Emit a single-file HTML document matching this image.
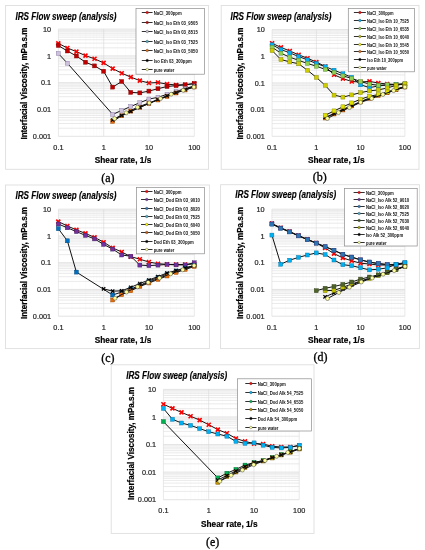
<!DOCTYPE html>
<html><head><meta charset="utf-8"><style>
html,body{margin:0;padding:0;background:#fff;width:425px;height:550px;overflow:hidden}
svg{display:block;filter:blur(0.3px)}
</style></head><body>
<svg width="425" height="550" viewBox="0 0 425 550">
<rect width="425" height="550" fill="#fff"/>
<rect x="5.6" y="5.5" width="202.9" height="163.8" fill="#fff" stroke="#dedede" stroke-width="0.9"/>
<line x1="72.04" y1="29.1" x2="72.04" y2="136.3" stroke="#f8f8f8" stroke-width="0.5"/>
<line x1="80.01" y1="29.1" x2="80.01" y2="136.3" stroke="#f8f8f8" stroke-width="0.5"/>
<line x1="85.67" y1="29.1" x2="85.67" y2="136.3" stroke="#f8f8f8" stroke-width="0.5"/>
<line x1="90.06" y1="29.1" x2="90.06" y2="136.3" stroke="#f8f8f8" stroke-width="0.5"/>
<line x1="93.65" y1="29.1" x2="93.65" y2="136.3" stroke="#f8f8f8" stroke-width="0.5"/>
<line x1="96.68" y1="29.1" x2="96.68" y2="136.3" stroke="#f8f8f8" stroke-width="0.5"/>
<line x1="99.31" y1="29.1" x2="99.31" y2="136.3" stroke="#f8f8f8" stroke-width="0.5"/>
<line x1="101.63" y1="29.1" x2="101.63" y2="136.3" stroke="#f8f8f8" stroke-width="0.5"/>
<line x1="117.34" y1="29.1" x2="117.34" y2="136.3" stroke="#f8f8f8" stroke-width="0.5"/>
<line x1="125.31" y1="29.1" x2="125.31" y2="136.3" stroke="#f8f8f8" stroke-width="0.5"/>
<line x1="130.97" y1="29.1" x2="130.97" y2="136.3" stroke="#f8f8f8" stroke-width="0.5"/>
<line x1="135.36" y1="29.1" x2="135.36" y2="136.3" stroke="#f8f8f8" stroke-width="0.5"/>
<line x1="138.95" y1="29.1" x2="138.95" y2="136.3" stroke="#f8f8f8" stroke-width="0.5"/>
<line x1="141.98" y1="29.1" x2="141.98" y2="136.3" stroke="#f8f8f8" stroke-width="0.5"/>
<line x1="144.61" y1="29.1" x2="144.61" y2="136.3" stroke="#f8f8f8" stroke-width="0.5"/>
<line x1="146.93" y1="29.1" x2="146.93" y2="136.3" stroke="#f8f8f8" stroke-width="0.5"/>
<line x1="162.64" y1="29.1" x2="162.64" y2="136.3" stroke="#f8f8f8" stroke-width="0.5"/>
<line x1="170.61" y1="29.1" x2="170.61" y2="136.3" stroke="#f8f8f8" stroke-width="0.5"/>
<line x1="176.27" y1="29.1" x2="176.27" y2="136.3" stroke="#f8f8f8" stroke-width="0.5"/>
<line x1="180.66" y1="29.1" x2="180.66" y2="136.3" stroke="#f8f8f8" stroke-width="0.5"/>
<line x1="184.25" y1="29.1" x2="184.25" y2="136.3" stroke="#f8f8f8" stroke-width="0.5"/>
<line x1="187.28" y1="29.1" x2="187.28" y2="136.3" stroke="#f8f8f8" stroke-width="0.5"/>
<line x1="189.91" y1="29.1" x2="189.91" y2="136.3" stroke="#f8f8f8" stroke-width="0.5"/>
<line x1="192.23" y1="29.1" x2="192.23" y2="136.3" stroke="#f8f8f8" stroke-width="0.5"/>
<line x1="58.4" y1="128.23" x2="194.3" y2="128.23" stroke="#dcdcdc" stroke-width="0.6"/>
<line x1="58.4" y1="123.51" x2="194.3" y2="123.51" stroke="#dcdcdc" stroke-width="0.6"/>
<line x1="58.4" y1="120.16" x2="194.3" y2="120.16" stroke="#dcdcdc" stroke-width="0.6"/>
<line x1="58.4" y1="117.57" x2="194.3" y2="117.57" stroke="#dcdcdc" stroke-width="0.6"/>
<line x1="58.4" y1="115.45" x2="194.3" y2="115.45" stroke="#dcdcdc" stroke-width="0.6"/>
<line x1="58.4" y1="113.65" x2="194.3" y2="113.65" stroke="#dcdcdc" stroke-width="0.6"/>
<line x1="58.4" y1="112.10" x2="194.3" y2="112.10" stroke="#dcdcdc" stroke-width="0.6"/>
<line x1="58.4" y1="110.73" x2="194.3" y2="110.73" stroke="#dcdcdc" stroke-width="0.6"/>
<line x1="58.4" y1="101.43" x2="194.3" y2="101.43" stroke="#dcdcdc" stroke-width="0.6"/>
<line x1="58.4" y1="96.71" x2="194.3" y2="96.71" stroke="#dcdcdc" stroke-width="0.6"/>
<line x1="58.4" y1="93.36" x2="194.3" y2="93.36" stroke="#dcdcdc" stroke-width="0.6"/>
<line x1="58.4" y1="90.77" x2="194.3" y2="90.77" stroke="#dcdcdc" stroke-width="0.6"/>
<line x1="58.4" y1="88.65" x2="194.3" y2="88.65" stroke="#dcdcdc" stroke-width="0.6"/>
<line x1="58.4" y1="86.85" x2="194.3" y2="86.85" stroke="#dcdcdc" stroke-width="0.6"/>
<line x1="58.4" y1="85.30" x2="194.3" y2="85.30" stroke="#dcdcdc" stroke-width="0.6"/>
<line x1="58.4" y1="83.93" x2="194.3" y2="83.93" stroke="#dcdcdc" stroke-width="0.6"/>
<line x1="58.4" y1="74.63" x2="194.3" y2="74.63" stroke="#dcdcdc" stroke-width="0.6"/>
<line x1="58.4" y1="69.91" x2="194.3" y2="69.91" stroke="#dcdcdc" stroke-width="0.6"/>
<line x1="58.4" y1="66.56" x2="194.3" y2="66.56" stroke="#dcdcdc" stroke-width="0.6"/>
<line x1="58.4" y1="63.97" x2="194.3" y2="63.97" stroke="#dcdcdc" stroke-width="0.6"/>
<line x1="58.4" y1="61.85" x2="194.3" y2="61.85" stroke="#dcdcdc" stroke-width="0.6"/>
<line x1="58.4" y1="60.05" x2="194.3" y2="60.05" stroke="#dcdcdc" stroke-width="0.6"/>
<line x1="58.4" y1="58.50" x2="194.3" y2="58.50" stroke="#dcdcdc" stroke-width="0.6"/>
<line x1="58.4" y1="57.13" x2="194.3" y2="57.13" stroke="#dcdcdc" stroke-width="0.6"/>
<line x1="58.4" y1="47.83" x2="194.3" y2="47.83" stroke="#dcdcdc" stroke-width="0.6"/>
<line x1="58.4" y1="43.11" x2="194.3" y2="43.11" stroke="#dcdcdc" stroke-width="0.6"/>
<line x1="58.4" y1="39.76" x2="194.3" y2="39.76" stroke="#dcdcdc" stroke-width="0.6"/>
<line x1="58.4" y1="37.17" x2="194.3" y2="37.17" stroke="#dcdcdc" stroke-width="0.6"/>
<line x1="58.4" y1="35.05" x2="194.3" y2="35.05" stroke="#dcdcdc" stroke-width="0.6"/>
<line x1="58.4" y1="33.25" x2="194.3" y2="33.25" stroke="#dcdcdc" stroke-width="0.6"/>
<line x1="58.4" y1="31.70" x2="194.3" y2="31.70" stroke="#dcdcdc" stroke-width="0.6"/>
<line x1="58.4" y1="30.33" x2="194.3" y2="30.33" stroke="#dcdcdc" stroke-width="0.6"/>
<line x1="58.4" y1="136.30" x2="194.3" y2="136.30" stroke="#d0d0d0" stroke-width="0.6"/>
<line x1="58.4" y1="109.50" x2="194.3" y2="109.50" stroke="#d0d0d0" stroke-width="0.6"/>
<line x1="58.4" y1="82.70" x2="194.3" y2="82.70" stroke="#d0d0d0" stroke-width="0.6"/>
<line x1="58.4" y1="55.90" x2="194.3" y2="55.90" stroke="#d0d0d0" stroke-width="0.6"/>
<line x1="58.4" y1="29.10" x2="194.3" y2="29.10" stroke="#d0d0d0" stroke-width="0.6"/>
<line x1="58.40" y1="29.1" x2="58.40" y2="136.3" stroke="#d9d9d9" stroke-width="0.6"/>
<line x1="103.70" y1="29.1" x2="103.70" y2="136.3" stroke="#d9d9d9" stroke-width="0.6"/>
<line x1="149.00" y1="29.1" x2="149.00" y2="136.3" stroke="#d9d9d9" stroke-width="0.6"/>
<line x1="194.30" y1="29.1" x2="194.30" y2="136.3" stroke="#d9d9d9" stroke-width="0.6"/>
<polyline points="58.30,43.40 67.36,48.00 76.42,51.60 85.48,55.60 94.54,58.80 103.60,62.90 112.66,68.60 121.72,73.20 130.78,77.10 139.84,80.60 148.90,83.00 157.96,82.50 167.02,84.10 176.08,85.00 185.14,84.80 194.20,83.60" fill="none" stroke="#111" stroke-width="1.0" stroke-linejoin="round"/>
<path d="M56.30,41.40L60.30,45.40M60.30,41.40L56.30,45.40" stroke="#ff0000" stroke-width="1.6" fill="none"/>
<path d="M65.36,46.00L69.36,50.00M69.36,46.00L65.36,50.00" stroke="#ff0000" stroke-width="1.6" fill="none"/>
<path d="M74.42,49.60L78.42,53.60M78.42,49.60L74.42,53.60" stroke="#ff0000" stroke-width="1.6" fill="none"/>
<path d="M83.48,53.60L87.48,57.60M87.48,53.60L83.48,57.60" stroke="#ff0000" stroke-width="1.6" fill="none"/>
<path d="M92.54,56.80L96.54,60.80M96.54,56.80L92.54,60.80" stroke="#ff0000" stroke-width="1.6" fill="none"/>
<path d="M101.60,60.90L105.60,64.90M105.60,60.90L101.60,64.90" stroke="#ff0000" stroke-width="1.6" fill="none"/>
<path d="M110.66,66.60L114.66,70.60M114.66,66.60L110.66,70.60" stroke="#ff0000" stroke-width="1.6" fill="none"/>
<path d="M119.72,71.20L123.72,75.20M123.72,71.20L119.72,75.20" stroke="#ff0000" stroke-width="1.6" fill="none"/>
<path d="M128.78,75.10L132.78,79.10M132.78,75.10L128.78,79.10" stroke="#ff0000" stroke-width="1.6" fill="none"/>
<path d="M137.84,78.60L141.84,82.60M141.84,78.60L137.84,82.60" stroke="#ff0000" stroke-width="1.6" fill="none"/>
<path d="M146.90,81.00L150.90,85.00M150.90,81.00L146.90,85.00" stroke="#ff0000" stroke-width="1.6" fill="none"/>
<path d="M155.96,80.50L159.96,84.50M159.96,80.50L155.96,84.50" stroke="#ff0000" stroke-width="1.6" fill="none"/>
<path d="M165.02,82.10L169.02,86.10M169.02,82.10L165.02,86.10" stroke="#ff0000" stroke-width="1.6" fill="none"/>
<path d="M174.08,83.00L178.08,87.00M178.08,83.00L174.08,87.00" stroke="#ff0000" stroke-width="1.6" fill="none"/>
<path d="M183.14,82.80L187.14,86.80M187.14,82.80L183.14,86.80" stroke="#ff0000" stroke-width="1.6" fill="none"/>
<path d="M192.20,81.60L196.20,85.60M196.20,81.60L192.20,85.60" stroke="#ff0000" stroke-width="1.6" fill="none"/>
<polyline points="58.30,45.50 67.36,51.00 76.42,56.00 85.48,62.20 94.54,65.90 103.60,71.20 112.66,87.10 121.72,81.50 130.78,92.40 139.84,92.90 148.90,91.10 157.96,88.70 167.02,86.50 176.08,85.60 185.14,84.80 194.20,83.50" fill="none" stroke="#111" stroke-width="1.0" stroke-linejoin="round"/>
<rect x="56.30" y="43.50" width="4.0" height="4.0" fill="#c00000" stroke="#800000" stroke-width="0.4"/>
<rect x="65.36" y="49.00" width="4.0" height="4.0" fill="#c00000" stroke="#800000" stroke-width="0.4"/>
<rect x="74.42" y="54.00" width="4.0" height="4.0" fill="#c00000" stroke="#800000" stroke-width="0.4"/>
<rect x="83.48" y="60.20" width="4.0" height="4.0" fill="#c00000" stroke="#800000" stroke-width="0.4"/>
<rect x="92.54" y="63.90" width="4.0" height="4.0" fill="#c00000" stroke="#800000" stroke-width="0.4"/>
<rect x="101.60" y="69.20" width="4.0" height="4.0" fill="#c00000" stroke="#800000" stroke-width="0.4"/>
<rect x="110.66" y="85.10" width="4.0" height="4.0" fill="#c00000" stroke="#800000" stroke-width="0.4"/>
<rect x="119.72" y="79.50" width="4.0" height="4.0" fill="#c00000" stroke="#800000" stroke-width="0.4"/>
<rect x="128.78" y="90.40" width="4.0" height="4.0" fill="#c00000" stroke="#800000" stroke-width="0.4"/>
<rect x="137.84" y="90.90" width="4.0" height="4.0" fill="#c00000" stroke="#800000" stroke-width="0.4"/>
<rect x="146.90" y="89.10" width="4.0" height="4.0" fill="#c00000" stroke="#800000" stroke-width="0.4"/>
<rect x="155.96" y="86.70" width="4.0" height="4.0" fill="#c00000" stroke="#800000" stroke-width="0.4"/>
<rect x="165.02" y="84.50" width="4.0" height="4.0" fill="#c00000" stroke="#800000" stroke-width="0.4"/>
<rect x="174.08" y="83.60" width="4.0" height="4.0" fill="#c00000" stroke="#800000" stroke-width="0.4"/>
<rect x="183.14" y="82.80" width="4.0" height="4.0" fill="#c00000" stroke="#800000" stroke-width="0.4"/>
<rect x="192.20" y="81.50" width="4.0" height="4.0" fill="#c00000" stroke="#800000" stroke-width="0.4"/>
<polyline points="58.30,53.50 67.36,63.20 112.66,114.40 121.72,110.40 130.78,106.50 139.84,102.70 148.90,99.10 157.96,97.30 167.02,94.30 176.08,91.40 185.14,88.60 194.20,86.00" fill="none" stroke="#111" stroke-width="1.0" stroke-linejoin="round"/>
<rect x="56.30" y="51.50" width="4.0" height="4.0" fill="#ccc0da" stroke="#7f6f9f" stroke-width="0.4"/>
<rect x="65.36" y="61.20" width="4.0" height="4.0" fill="#ccc0da" stroke="#7f6f9f" stroke-width="0.4"/>
<rect x="110.66" y="112.40" width="4.0" height="4.0" fill="#ccc0da" stroke="#7f6f9f" stroke-width="0.4"/>
<rect x="119.72" y="108.40" width="4.0" height="4.0" fill="#ccc0da" stroke="#7f6f9f" stroke-width="0.4"/>
<rect x="128.78" y="104.50" width="4.0" height="4.0" fill="#ccc0da" stroke="#7f6f9f" stroke-width="0.4"/>
<rect x="137.84" y="100.70" width="4.0" height="4.0" fill="#ccc0da" stroke="#7f6f9f" stroke-width="0.4"/>
<rect x="146.90" y="97.10" width="4.0" height="4.0" fill="#ccc0da" stroke="#7f6f9f" stroke-width="0.4"/>
<rect x="155.96" y="95.30" width="4.0" height="4.0" fill="#ccc0da" stroke="#7f6f9f" stroke-width="0.4"/>
<rect x="165.02" y="92.30" width="4.0" height="4.0" fill="#ccc0da" stroke="#7f6f9f" stroke-width="0.4"/>
<rect x="174.08" y="89.40" width="4.0" height="4.0" fill="#ccc0da" stroke="#7f6f9f" stroke-width="0.4"/>
<rect x="183.14" y="86.60" width="4.0" height="4.0" fill="#ccc0da" stroke="#7f6f9f" stroke-width="0.4"/>
<rect x="192.20" y="84.00" width="4.0" height="4.0" fill="#ccc0da" stroke="#7f6f9f" stroke-width="0.4"/>
<polyline points="112.66,121.40 121.72,115.80 130.78,111.10 139.84,107.30 148.90,103.50 157.96,100.00 167.02,96.50 176.08,93.00 185.14,90.00 194.20,87.00" fill="none" stroke="#111" stroke-width="1.0" stroke-linejoin="round"/>
<rect x="110.66" y="119.40" width="4.0" height="4.0" fill="#e46c0a" stroke="#984807" stroke-width="0.4"/>
<rect x="119.72" y="113.80" width="4.0" height="4.0" fill="#e46c0a" stroke="#984807" stroke-width="0.4"/>
<rect x="128.78" y="109.10" width="4.0" height="4.0" fill="#e46c0a" stroke="#984807" stroke-width="0.4"/>
<rect x="137.84" y="105.30" width="4.0" height="4.0" fill="#e46c0a" stroke="#984807" stroke-width="0.4"/>
<rect x="146.90" y="101.50" width="4.0" height="4.0" fill="#e46c0a" stroke="#984807" stroke-width="0.4"/>
<rect x="155.96" y="98.00" width="4.0" height="4.0" fill="#e46c0a" stroke="#984807" stroke-width="0.4"/>
<rect x="165.02" y="94.50" width="4.0" height="4.0" fill="#e46c0a" stroke="#984807" stroke-width="0.4"/>
<rect x="174.08" y="91.00" width="4.0" height="4.0" fill="#e46c0a" stroke="#984807" stroke-width="0.4"/>
<rect x="183.14" y="88.00" width="4.0" height="4.0" fill="#e46c0a" stroke="#984807" stroke-width="0.4"/>
<rect x="192.20" y="85.00" width="4.0" height="4.0" fill="#e46c0a" stroke="#984807" stroke-width="0.4"/>
<polyline points="112.66,120.00 121.72,115.50 130.78,111.50 139.84,107.50 148.90,103.50 157.96,99.50 167.02,95.80 176.08,92.60 185.14,89.50 194.20,86.00" fill="none" stroke="#111" stroke-width="1.0" stroke-linejoin="round"/>
<path d="M110.96,118.30L114.36,121.70M114.36,118.30L110.96,121.70" stroke="#000000" stroke-width="1.2" fill="none"/>
<path d="M120.02,113.80L123.42,117.20M123.42,113.80L120.02,117.20" stroke="#000000" stroke-width="1.2" fill="none"/>
<path d="M129.08,109.80L132.48,113.20M132.48,109.80L129.08,113.20" stroke="#000000" stroke-width="1.2" fill="none"/>
<path d="M138.14,105.80L141.54,109.20M141.54,105.80L138.14,109.20" stroke="#000000" stroke-width="1.2" fill="none"/>
<path d="M147.20,101.80L150.60,105.20M150.60,101.80L147.20,105.20" stroke="#000000" stroke-width="1.2" fill="none"/>
<path d="M156.26,97.80L159.66,101.20M159.66,97.80L156.26,101.20" stroke="#000000" stroke-width="1.2" fill="none"/>
<path d="M165.32,94.10L168.72,97.50M168.72,94.10L165.32,97.50" stroke="#000000" stroke-width="1.2" fill="none"/>
<path d="M174.38,90.90L177.78,94.30M177.78,90.90L174.38,94.30" stroke="#000000" stroke-width="1.2" fill="none"/>
<path d="M183.44,87.80L186.84,91.20M186.84,87.80L183.44,91.20" stroke="#000000" stroke-width="1.2" fill="none"/>
<path d="M192.50,84.30L195.90,87.70M195.90,84.30L192.50,87.70" stroke="#000000" stroke-width="1.2" fill="none"/>
<polyline points="114.60,118.60 126.20,112.80 137.50,107.20 149.20,102.90 160.50,98.60 171.20,94.20 183.20,90.30 193.90,87.10" fill="none" stroke="#111" stroke-width="1.0" stroke-linejoin="round"/>
<circle cx="114.60" cy="118.60" r="2.00" fill="#ffff99" stroke="#404040" stroke-width="0.5"/>
<circle cx="126.20" cy="112.80" r="2.00" fill="#ffff99" stroke="#404040" stroke-width="0.5"/>
<circle cx="137.50" cy="107.20" r="2.00" fill="#ffff99" stroke="#404040" stroke-width="0.5"/>
<circle cx="149.20" cy="102.90" r="2.00" fill="#ffff99" stroke="#404040" stroke-width="0.5"/>
<circle cx="160.50" cy="98.60" r="2.00" fill="#ffff99" stroke="#404040" stroke-width="0.5"/>
<circle cx="171.20" cy="94.20" r="2.00" fill="#ffff99" stroke="#404040" stroke-width="0.5"/>
<circle cx="183.20" cy="90.30" r="2.00" fill="#ffff99" stroke="#404040" stroke-width="0.5"/>
<circle cx="193.90" cy="87.10" r="2.00" fill="#ffff99" stroke="#404040" stroke-width="0.5"/>
<text x="51.10" y="139.00" font-family='"Liberation Sans", sans-serif' font-size="7.9" fill="#262626" stroke="#262626" stroke-width="0.22" text-anchor="end" textLength="18.24" lengthAdjust="spacingAndGlyphs">0.001</text>
<text x="51.10" y="112.20" font-family='"Liberation Sans", sans-serif' font-size="7.9" fill="#262626" stroke="#262626" stroke-width="0.22" text-anchor="end" textLength="14.18" lengthAdjust="spacingAndGlyphs">0.01</text>
<text x="51.10" y="85.40" font-family='"Liberation Sans", sans-serif' font-size="7.9" fill="#262626" stroke="#262626" stroke-width="0.22" text-anchor="end" textLength="10.13" lengthAdjust="spacingAndGlyphs">0.1</text>
<text x="51.10" y="58.60" font-family='"Liberation Sans", sans-serif' font-size="7.9" fill="#262626" stroke="#262626" stroke-width="0.22" text-anchor="end" textLength="4.06" lengthAdjust="spacingAndGlyphs">1</text>
<text x="51.10" y="31.80" font-family='"Liberation Sans", sans-serif' font-size="7.9" fill="#262626" stroke="#262626" stroke-width="0.22" text-anchor="end" textLength="8.11" lengthAdjust="spacingAndGlyphs">10</text>
<text x="58.40" y="149.70" font-family='"Liberation Sans", sans-serif' font-size="7.9" fill="#262626" stroke="#262626" stroke-width="0.22" text-anchor="middle" textLength="10.13" lengthAdjust="spacingAndGlyphs">0.1</text>
<text x="103.70" y="149.70" font-family='"Liberation Sans", sans-serif' font-size="7.9" fill="#262626" stroke="#262626" stroke-width="0.22" text-anchor="middle" textLength="4.06" lengthAdjust="spacingAndGlyphs">1</text>
<text x="149.00" y="149.70" font-family='"Liberation Sans", sans-serif' font-size="7.9" fill="#262626" stroke="#262626" stroke-width="0.22" text-anchor="middle" textLength="8.11" lengthAdjust="spacingAndGlyphs">10</text>
<text x="194.30" y="149.70" font-family='"Liberation Sans", sans-serif' font-size="7.9" fill="#262626" stroke="#262626" stroke-width="0.22" text-anchor="middle" textLength="12.17" lengthAdjust="spacingAndGlyphs">100</text>
<text x="15.5" y="19.8" font-family='"Liberation Sans", sans-serif' font-size="10" font-weight="bold" font-style="italic" fill="#000" stroke="#000" stroke-width="0.15" textLength="101" lengthAdjust="spacingAndGlyphs">IRS Flow sweep (analysis)</text>
<text transform="translate(27.1,139.6) rotate(-90)" x="0" y="0" font-family='"Liberation Sans", sans-serif' font-size="8.8" font-weight="bold" fill="#000" stroke="#000" stroke-width="0.22" textLength="112.0" lengthAdjust="spacingAndGlyphs">Interfacial Viscosity, mPa.s.m</text>
<text x="94.8" y="163.4" font-family='"Liberation Sans", sans-serif' font-size="8.8" font-weight="bold" fill="#000" stroke="#000" stroke-width="0.2" textLength="56.500000000000014" lengthAdjust="spacingAndGlyphs">Shear rate, 1/s</text>
<text x="107.9" y="181.5" font-family='"Liberation Serif", serif' font-size="12" fill="#000" stroke="#000" stroke-width="0.3" text-anchor="middle">(a)</text>
<rect x="136" y="8.5" width="68.4" height="65.7" fill="#fff" stroke="#8c8c8c" stroke-width="0.7"/>
<line x1="141.80" y1="12.50" x2="152.60" y2="12.50" stroke="#1a1a1a" stroke-width="0.9"/>
<circle cx="147.20" cy="12.50" r="1.3" fill="#ff0000" stroke="#333" stroke-width="0.35"/>
<text x="153.80" y="15.00" font-family='"Liberation Sans", sans-serif' font-size="5.4" font-weight="bold" fill="#111" textLength="27.9" lengthAdjust="spacingAndGlyphs">NaCl_300ppm</text>
<line x1="141.80" y1="22.50" x2="152.60" y2="22.50" stroke="#1a1a1a" stroke-width="0.9"/>
<circle cx="147.20" cy="22.50" r="1.3" fill="#c00000" stroke="#333" stroke-width="0.35"/>
<text x="153.80" y="25.00" font-family='"Liberation Sans", sans-serif' font-size="5.4" font-weight="bold" fill="#111" textLength="44.0" lengthAdjust="spacingAndGlyphs">NaCl_Iso Eth 03_9505</text>
<line x1="141.80" y1="31.50" x2="152.60" y2="31.50" stroke="#1a1a1a" stroke-width="0.9"/>
<circle cx="147.20" cy="31.50" r="1.3" fill="#ccc0da" stroke="#333" stroke-width="0.35"/>
<text x="153.80" y="34.00" font-family='"Liberation Sans", sans-serif' font-size="5.4" font-weight="bold" fill="#111" textLength="44.0" lengthAdjust="spacingAndGlyphs">NaCl_Iso Eth 03_8515</text>
<line x1="141.80" y1="41.50" x2="152.60" y2="41.50" stroke="#1a1a1a" stroke-width="0.9"/>
<circle cx="147.20" cy="41.50" r="1.3" fill="#4bacc6" stroke="#333" stroke-width="0.35"/>
<text x="153.80" y="44.00" font-family='"Liberation Sans", sans-serif' font-size="5.4" font-weight="bold" fill="#111" textLength="44.0" lengthAdjust="spacingAndGlyphs">NaCl_Iso Eth 03_7525</text>
<line x1="141.80" y1="50.50" x2="152.60" y2="50.50" stroke="#1a1a1a" stroke-width="0.9"/>
<circle cx="147.20" cy="50.50" r="1.3" fill="#e46c0a" stroke="#333" stroke-width="0.35"/>
<text x="153.80" y="53.00" font-family='"Liberation Sans", sans-serif' font-size="5.4" font-weight="bold" fill="#111" textLength="44.0" lengthAdjust="spacingAndGlyphs">NaCl_Iso Eth 03_5050</text>
<line x1="141.80" y1="60.50" x2="152.60" y2="60.50" stroke="#1a1a1a" stroke-width="0.9"/>
<circle cx="147.20" cy="60.50" r="1.3" fill="#000" stroke="#333" stroke-width="0.35"/>
<text x="153.80" y="63.00" font-family='"Liberation Sans", sans-serif' font-size="5.4" font-weight="bold" fill="#111" textLength="37.9" lengthAdjust="spacingAndGlyphs">Iso Eth 03_300ppm</text>
<line x1="141.80" y1="69.50" x2="152.60" y2="69.50" stroke="#1a1a1a" stroke-width="0.9"/>
<circle cx="147.20" cy="69.50" r="1.3" fill="#ffff99" stroke="#333" stroke-width="0.35"/>
<text x="153.80" y="72.00" font-family='"Liberation Sans", sans-serif' font-size="5.4" font-weight="bold" fill="#111" textLength="20.6" lengthAdjust="spacingAndGlyphs">pure water</text>
<rect x="221.2" y="5.5" width="197.8" height="163.8" fill="#fff" stroke="#dedede" stroke-width="0.9"/>
<line x1="285.43" y1="29.6" x2="285.43" y2="136.3" stroke="#f8f8f8" stroke-width="0.5"/>
<line x1="293.22" y1="29.6" x2="293.22" y2="136.3" stroke="#f8f8f8" stroke-width="0.5"/>
<line x1="298.75" y1="29.6" x2="298.75" y2="136.3" stroke="#f8f8f8" stroke-width="0.5"/>
<line x1="303.04" y1="29.6" x2="303.04" y2="136.3" stroke="#f8f8f8" stroke-width="0.5"/>
<line x1="306.55" y1="29.6" x2="306.55" y2="136.3" stroke="#f8f8f8" stroke-width="0.5"/>
<line x1="309.51" y1="29.6" x2="309.51" y2="136.3" stroke="#f8f8f8" stroke-width="0.5"/>
<line x1="312.08" y1="29.6" x2="312.08" y2="136.3" stroke="#f8f8f8" stroke-width="0.5"/>
<line x1="314.34" y1="29.6" x2="314.34" y2="136.3" stroke="#f8f8f8" stroke-width="0.5"/>
<line x1="329.69" y1="29.6" x2="329.69" y2="136.3" stroke="#f8f8f8" stroke-width="0.5"/>
<line x1="337.49" y1="29.6" x2="337.49" y2="136.3" stroke="#f8f8f8" stroke-width="0.5"/>
<line x1="343.02" y1="29.6" x2="343.02" y2="136.3" stroke="#f8f8f8" stroke-width="0.5"/>
<line x1="347.31" y1="29.6" x2="347.31" y2="136.3" stroke="#f8f8f8" stroke-width="0.5"/>
<line x1="350.81" y1="29.6" x2="350.81" y2="136.3" stroke="#f8f8f8" stroke-width="0.5"/>
<line x1="353.78" y1="29.6" x2="353.78" y2="136.3" stroke="#f8f8f8" stroke-width="0.5"/>
<line x1="356.34" y1="29.6" x2="356.34" y2="136.3" stroke="#f8f8f8" stroke-width="0.5"/>
<line x1="358.61" y1="29.6" x2="358.61" y2="136.3" stroke="#f8f8f8" stroke-width="0.5"/>
<line x1="373.96" y1="29.6" x2="373.96" y2="136.3" stroke="#f8f8f8" stroke-width="0.5"/>
<line x1="381.75" y1="29.6" x2="381.75" y2="136.3" stroke="#f8f8f8" stroke-width="0.5"/>
<line x1="387.28" y1="29.6" x2="387.28" y2="136.3" stroke="#f8f8f8" stroke-width="0.5"/>
<line x1="391.57" y1="29.6" x2="391.57" y2="136.3" stroke="#f8f8f8" stroke-width="0.5"/>
<line x1="395.08" y1="29.6" x2="395.08" y2="136.3" stroke="#f8f8f8" stroke-width="0.5"/>
<line x1="398.04" y1="29.6" x2="398.04" y2="136.3" stroke="#f8f8f8" stroke-width="0.5"/>
<line x1="400.61" y1="29.6" x2="400.61" y2="136.3" stroke="#f8f8f8" stroke-width="0.5"/>
<line x1="402.87" y1="29.6" x2="402.87" y2="136.3" stroke="#f8f8f8" stroke-width="0.5"/>
<line x1="272.1" y1="128.27" x2="404.9" y2="128.27" stroke="#dcdcdc" stroke-width="0.6"/>
<line x1="272.1" y1="123.57" x2="404.9" y2="123.57" stroke="#dcdcdc" stroke-width="0.6"/>
<line x1="272.1" y1="120.24" x2="404.9" y2="120.24" stroke="#dcdcdc" stroke-width="0.6"/>
<line x1="272.1" y1="117.65" x2="404.9" y2="117.65" stroke="#dcdcdc" stroke-width="0.6"/>
<line x1="272.1" y1="115.54" x2="404.9" y2="115.54" stroke="#dcdcdc" stroke-width="0.6"/>
<line x1="272.1" y1="113.76" x2="404.9" y2="113.76" stroke="#dcdcdc" stroke-width="0.6"/>
<line x1="272.1" y1="112.21" x2="404.9" y2="112.21" stroke="#dcdcdc" stroke-width="0.6"/>
<line x1="272.1" y1="110.85" x2="404.9" y2="110.85" stroke="#dcdcdc" stroke-width="0.6"/>
<line x1="272.1" y1="101.60" x2="404.9" y2="101.60" stroke="#dcdcdc" stroke-width="0.6"/>
<line x1="272.1" y1="96.90" x2="404.9" y2="96.90" stroke="#dcdcdc" stroke-width="0.6"/>
<line x1="272.1" y1="93.57" x2="404.9" y2="93.57" stroke="#dcdcdc" stroke-width="0.6"/>
<line x1="272.1" y1="90.98" x2="404.9" y2="90.98" stroke="#dcdcdc" stroke-width="0.6"/>
<line x1="272.1" y1="88.87" x2="404.9" y2="88.87" stroke="#dcdcdc" stroke-width="0.6"/>
<line x1="272.1" y1="87.08" x2="404.9" y2="87.08" stroke="#dcdcdc" stroke-width="0.6"/>
<line x1="272.1" y1="85.54" x2="404.9" y2="85.54" stroke="#dcdcdc" stroke-width="0.6"/>
<line x1="272.1" y1="84.17" x2="404.9" y2="84.17" stroke="#dcdcdc" stroke-width="0.6"/>
<line x1="272.1" y1="74.92" x2="404.9" y2="74.92" stroke="#dcdcdc" stroke-width="0.6"/>
<line x1="272.1" y1="70.22" x2="404.9" y2="70.22" stroke="#dcdcdc" stroke-width="0.6"/>
<line x1="272.1" y1="66.89" x2="404.9" y2="66.89" stroke="#dcdcdc" stroke-width="0.6"/>
<line x1="272.1" y1="64.30" x2="404.9" y2="64.30" stroke="#dcdcdc" stroke-width="0.6"/>
<line x1="272.1" y1="62.19" x2="404.9" y2="62.19" stroke="#dcdcdc" stroke-width="0.6"/>
<line x1="272.1" y1="60.41" x2="404.9" y2="60.41" stroke="#dcdcdc" stroke-width="0.6"/>
<line x1="272.1" y1="58.86" x2="404.9" y2="58.86" stroke="#dcdcdc" stroke-width="0.6"/>
<line x1="272.1" y1="57.50" x2="404.9" y2="57.50" stroke="#dcdcdc" stroke-width="0.6"/>
<line x1="272.1" y1="48.25" x2="404.9" y2="48.25" stroke="#dcdcdc" stroke-width="0.6"/>
<line x1="272.1" y1="43.55" x2="404.9" y2="43.55" stroke="#dcdcdc" stroke-width="0.6"/>
<line x1="272.1" y1="40.22" x2="404.9" y2="40.22" stroke="#dcdcdc" stroke-width="0.6"/>
<line x1="272.1" y1="37.63" x2="404.9" y2="37.63" stroke="#dcdcdc" stroke-width="0.6"/>
<line x1="272.1" y1="35.52" x2="404.9" y2="35.52" stroke="#dcdcdc" stroke-width="0.6"/>
<line x1="272.1" y1="33.73" x2="404.9" y2="33.73" stroke="#dcdcdc" stroke-width="0.6"/>
<line x1="272.1" y1="32.19" x2="404.9" y2="32.19" stroke="#dcdcdc" stroke-width="0.6"/>
<line x1="272.1" y1="30.82" x2="404.9" y2="30.82" stroke="#dcdcdc" stroke-width="0.6"/>
<line x1="272.1" y1="136.30" x2="404.9" y2="136.30" stroke="#d0d0d0" stroke-width="0.6"/>
<line x1="272.1" y1="109.62" x2="404.9" y2="109.62" stroke="#d0d0d0" stroke-width="0.6"/>
<line x1="272.1" y1="82.95" x2="404.9" y2="82.95" stroke="#d0d0d0" stroke-width="0.6"/>
<line x1="272.1" y1="56.28" x2="404.9" y2="56.28" stroke="#d0d0d0" stroke-width="0.6"/>
<line x1="272.1" y1="29.60" x2="404.9" y2="29.60" stroke="#d0d0d0" stroke-width="0.6"/>
<line x1="272.10" y1="29.6" x2="272.10" y2="136.3" stroke="#d9d9d9" stroke-width="0.6"/>
<line x1="316.37" y1="29.6" x2="316.37" y2="136.3" stroke="#d9d9d9" stroke-width="0.6"/>
<line x1="360.63" y1="29.6" x2="360.63" y2="136.3" stroke="#d9d9d9" stroke-width="0.6"/>
<line x1="404.90" y1="29.6" x2="404.90" y2="136.3" stroke="#d9d9d9" stroke-width="0.6"/>
<polyline points="272.10,43.30 280.95,47.40 289.81,51.00 298.66,54.80 307.51,58.30 316.37,62.00 325.22,66.50 334.07,74.80 342.92,78.60 351.78,81.50 360.63,82.00 369.48,81.40 378.34,83.00 387.19,84.00 396.04,84.50 404.89,84.00" fill="none" stroke="#111" stroke-width="1.0" stroke-linejoin="round"/>
<path d="M270.10,41.30L274.10,45.30M274.10,41.30L270.10,45.30" stroke="#ff0000" stroke-width="1.6" fill="none"/>
<path d="M278.95,45.40L282.95,49.40M282.95,45.40L278.95,49.40" stroke="#ff0000" stroke-width="1.6" fill="none"/>
<path d="M287.81,49.00L291.81,53.00M291.81,49.00L287.81,53.00" stroke="#ff0000" stroke-width="1.6" fill="none"/>
<path d="M296.66,52.80L300.66,56.80M300.66,52.80L296.66,56.80" stroke="#ff0000" stroke-width="1.6" fill="none"/>
<path d="M305.51,56.30L309.51,60.30M309.51,56.30L305.51,60.30" stroke="#ff0000" stroke-width="1.6" fill="none"/>
<path d="M314.37,60.00L318.37,64.00M318.37,60.00L314.37,64.00" stroke="#ff0000" stroke-width="1.6" fill="none"/>
<path d="M323.22,64.50L327.22,68.50M327.22,64.50L323.22,68.50" stroke="#ff0000" stroke-width="1.6" fill="none"/>
<path d="M332.07,72.80L336.07,76.80M336.07,72.80L332.07,76.80" stroke="#ff0000" stroke-width="1.6" fill="none"/>
<path d="M340.92,76.60L344.92,80.60M344.92,76.60L340.92,80.60" stroke="#ff0000" stroke-width="1.6" fill="none"/>
<path d="M349.78,79.50L353.78,83.50M353.78,79.50L349.78,83.50" stroke="#ff0000" stroke-width="1.6" fill="none"/>
<path d="M358.63,80.00L362.63,84.00M362.63,80.00L358.63,84.00" stroke="#ff0000" stroke-width="1.6" fill="none"/>
<path d="M367.48,79.40L371.48,83.40M371.48,79.40L367.48,83.40" stroke="#ff0000" stroke-width="1.6" fill="none"/>
<path d="M376.34,81.00L380.34,85.00M380.34,81.00L376.34,85.00" stroke="#ff0000" stroke-width="1.6" fill="none"/>
<path d="M385.19,82.00L389.19,86.00M389.19,82.00L385.19,86.00" stroke="#ff0000" stroke-width="1.6" fill="none"/>
<path d="M394.04,82.50L398.04,86.50M398.04,82.50L394.04,86.50" stroke="#ff0000" stroke-width="1.6" fill="none"/>
<path d="M402.89,82.00L406.89,86.00M406.89,82.00L402.89,86.00" stroke="#ff0000" stroke-width="1.6" fill="none"/>
<polyline points="272.10,44.80 280.95,49.50 289.81,52.90 298.66,56.50 307.51,59.90 316.37,63.50 325.22,66.70 334.07,70.20 342.92,73.70 351.78,77.30 360.63,84.80 369.48,87.60 378.34,86.00 387.19,85.00 396.04,84.50 404.89,84.00" fill="none" stroke="#111" stroke-width="1.0" stroke-linejoin="round"/>
<rect x="270.10" y="42.80" width="4.0" height="4.0" fill="#00b0f0" stroke="#0070a0" stroke-width="0.4"/>
<rect x="278.95" y="47.50" width="4.0" height="4.0" fill="#00b0f0" stroke="#0070a0" stroke-width="0.4"/>
<rect x="287.81" y="50.90" width="4.0" height="4.0" fill="#00b0f0" stroke="#0070a0" stroke-width="0.4"/>
<rect x="296.66" y="54.50" width="4.0" height="4.0" fill="#00b0f0" stroke="#0070a0" stroke-width="0.4"/>
<rect x="305.51" y="57.90" width="4.0" height="4.0" fill="#00b0f0" stroke="#0070a0" stroke-width="0.4"/>
<rect x="314.37" y="61.50" width="4.0" height="4.0" fill="#00b0f0" stroke="#0070a0" stroke-width="0.4"/>
<rect x="323.22" y="64.70" width="4.0" height="4.0" fill="#00b0f0" stroke="#0070a0" stroke-width="0.4"/>
<rect x="332.07" y="68.20" width="4.0" height="4.0" fill="#00b0f0" stroke="#0070a0" stroke-width="0.4"/>
<rect x="340.92" y="71.70" width="4.0" height="4.0" fill="#00b0f0" stroke="#0070a0" stroke-width="0.4"/>
<rect x="349.78" y="75.30" width="4.0" height="4.0" fill="#00b0f0" stroke="#0070a0" stroke-width="0.4"/>
<rect x="358.63" y="82.80" width="4.0" height="4.0" fill="#00b0f0" stroke="#0070a0" stroke-width="0.4"/>
<rect x="367.48" y="85.60" width="4.0" height="4.0" fill="#00b0f0" stroke="#0070a0" stroke-width="0.4"/>
<rect x="376.34" y="84.00" width="4.0" height="4.0" fill="#00b0f0" stroke="#0070a0" stroke-width="0.4"/>
<rect x="385.19" y="83.00" width="4.0" height="4.0" fill="#00b0f0" stroke="#0070a0" stroke-width="0.4"/>
<rect x="394.04" y="82.50" width="4.0" height="4.0" fill="#00b0f0" stroke="#0070a0" stroke-width="0.4"/>
<rect x="402.89" y="82.00" width="4.0" height="4.0" fill="#00b0f0" stroke="#0070a0" stroke-width="0.4"/>
<polyline points="272.10,47.30 280.95,53.20 289.81,57.20 298.66,60.30 307.51,63.50 316.37,66.20 325.22,69.40 334.07,72.40 342.92,75.90 351.78,78.40 360.63,81.50 369.48,84.10 378.34,85.30 387.19,84.80 396.04,84.50 404.89,84.00" fill="none" stroke="#111" stroke-width="1.0" stroke-linejoin="round"/>
<rect x="270.10" y="45.30" width="4.0" height="4.0" fill="#92d050" stroke="#4f7f2f" stroke-width="0.4"/>
<rect x="278.95" y="51.20" width="4.0" height="4.0" fill="#92d050" stroke="#4f7f2f" stroke-width="0.4"/>
<rect x="287.81" y="55.20" width="4.0" height="4.0" fill="#92d050" stroke="#4f7f2f" stroke-width="0.4"/>
<rect x="296.66" y="58.30" width="4.0" height="4.0" fill="#92d050" stroke="#4f7f2f" stroke-width="0.4"/>
<rect x="305.51" y="61.50" width="4.0" height="4.0" fill="#92d050" stroke="#4f7f2f" stroke-width="0.4"/>
<rect x="314.37" y="64.20" width="4.0" height="4.0" fill="#92d050" stroke="#4f7f2f" stroke-width="0.4"/>
<rect x="323.22" y="67.40" width="4.0" height="4.0" fill="#92d050" stroke="#4f7f2f" stroke-width="0.4"/>
<rect x="332.07" y="70.40" width="4.0" height="4.0" fill="#92d050" stroke="#4f7f2f" stroke-width="0.4"/>
<rect x="340.92" y="73.90" width="4.0" height="4.0" fill="#92d050" stroke="#4f7f2f" stroke-width="0.4"/>
<rect x="349.78" y="76.40" width="4.0" height="4.0" fill="#92d050" stroke="#4f7f2f" stroke-width="0.4"/>
<rect x="358.63" y="79.50" width="4.0" height="4.0" fill="#92d050" stroke="#4f7f2f" stroke-width="0.4"/>
<rect x="367.48" y="82.10" width="4.0" height="4.0" fill="#92d050" stroke="#4f7f2f" stroke-width="0.4"/>
<rect x="376.34" y="83.30" width="4.0" height="4.0" fill="#92d050" stroke="#4f7f2f" stroke-width="0.4"/>
<rect x="385.19" y="82.80" width="4.0" height="4.0" fill="#92d050" stroke="#4f7f2f" stroke-width="0.4"/>
<rect x="394.04" y="82.50" width="4.0" height="4.0" fill="#92d050" stroke="#4f7f2f" stroke-width="0.4"/>
<rect x="402.89" y="82.00" width="4.0" height="4.0" fill="#92d050" stroke="#4f7f2f" stroke-width="0.4"/>
<polyline points="272.10,50.60 280.95,59.50 289.81,61.90 298.66,63.80 307.51,70.30 316.37,77.40 325.22,85.40 334.07,95.10 342.92,97.10 351.78,94.90 360.63,92.60 369.48,90.90 378.34,89.90 387.19,88.00 396.04,85.30 404.89,83.80" fill="none" stroke="#111" stroke-width="1.0" stroke-linejoin="round"/>
<rect x="270.10" y="48.60" width="4.0" height="4.0" fill="#cccc00" stroke="#7f7f00" stroke-width="0.4"/>
<rect x="278.95" y="57.50" width="4.0" height="4.0" fill="#cccc00" stroke="#7f7f00" stroke-width="0.4"/>
<rect x="287.81" y="59.90" width="4.0" height="4.0" fill="#cccc00" stroke="#7f7f00" stroke-width="0.4"/>
<rect x="296.66" y="61.80" width="4.0" height="4.0" fill="#cccc00" stroke="#7f7f00" stroke-width="0.4"/>
<rect x="305.51" y="68.30" width="4.0" height="4.0" fill="#cccc00" stroke="#7f7f00" stroke-width="0.4"/>
<rect x="314.37" y="75.40" width="4.0" height="4.0" fill="#cccc00" stroke="#7f7f00" stroke-width="0.4"/>
<rect x="323.22" y="83.40" width="4.0" height="4.0" fill="#cccc00" stroke="#7f7f00" stroke-width="0.4"/>
<rect x="332.07" y="93.10" width="4.0" height="4.0" fill="#cccc00" stroke="#7f7f00" stroke-width="0.4"/>
<rect x="340.92" y="95.10" width="4.0" height="4.0" fill="#cccc00" stroke="#7f7f00" stroke-width="0.4"/>
<rect x="349.78" y="92.90" width="4.0" height="4.0" fill="#cccc00" stroke="#7f7f00" stroke-width="0.4"/>
<rect x="358.63" y="90.60" width="4.0" height="4.0" fill="#cccc00" stroke="#7f7f00" stroke-width="0.4"/>
<rect x="367.48" y="88.90" width="4.0" height="4.0" fill="#cccc00" stroke="#7f7f00" stroke-width="0.4"/>
<rect x="376.34" y="87.90" width="4.0" height="4.0" fill="#cccc00" stroke="#7f7f00" stroke-width="0.4"/>
<rect x="385.19" y="86.00" width="4.0" height="4.0" fill="#cccc00" stroke="#7f7f00" stroke-width="0.4"/>
<rect x="394.04" y="83.30" width="4.0" height="4.0" fill="#cccc00" stroke="#7f7f00" stroke-width="0.4"/>
<rect x="402.89" y="81.80" width="4.0" height="4.0" fill="#cccc00" stroke="#7f7f00" stroke-width="0.4"/>
<polyline points="325.22,118.00 334.07,114.00 342.92,110.00 351.78,106.00 360.63,102.00 369.48,98.50 378.34,95.50 387.19,92.80 396.04,89.80 404.89,87.00" fill="none" stroke="#111" stroke-width="1.0" stroke-linejoin="round"/>
<rect x="323.22" y="116.00" width="4.0" height="4.0" fill="#e46c0a" stroke="#984807" stroke-width="0.4"/>
<rect x="332.07" y="112.00" width="4.0" height="4.0" fill="#e46c0a" stroke="#984807" stroke-width="0.4"/>
<rect x="340.92" y="108.00" width="4.0" height="4.0" fill="#e46c0a" stroke="#984807" stroke-width="0.4"/>
<rect x="349.78" y="104.00" width="4.0" height="4.0" fill="#e46c0a" stroke="#984807" stroke-width="0.4"/>
<rect x="358.63" y="100.00" width="4.0" height="4.0" fill="#e46c0a" stroke="#984807" stroke-width="0.4"/>
<rect x="367.48" y="96.50" width="4.0" height="4.0" fill="#e46c0a" stroke="#984807" stroke-width="0.4"/>
<rect x="376.34" y="93.50" width="4.0" height="4.0" fill="#e46c0a" stroke="#984807" stroke-width="0.4"/>
<rect x="385.19" y="90.80" width="4.0" height="4.0" fill="#e46c0a" stroke="#984807" stroke-width="0.4"/>
<rect x="394.04" y="87.80" width="4.0" height="4.0" fill="#e46c0a" stroke="#984807" stroke-width="0.4"/>
<rect x="402.89" y="85.00" width="4.0" height="4.0" fill="#e46c0a" stroke="#984807" stroke-width="0.4"/>
<polyline points="325.22,117.30 334.07,113.50 342.92,109.40 351.78,105.50 360.63,101.50 369.48,98.00 378.34,95.20 387.19,92.50 396.04,89.50 404.89,86.50" fill="none" stroke="#111" stroke-width="1.0" stroke-linejoin="round"/>
<path d="M323.52,115.60L326.92,119.00M326.92,115.60L323.52,119.00" stroke="#000000" stroke-width="1.2" fill="none"/>
<path d="M332.37,111.80L335.77,115.20M335.77,111.80L332.37,115.20" stroke="#000000" stroke-width="1.2" fill="none"/>
<path d="M341.22,107.70L344.62,111.10M344.62,107.70L341.22,111.10" stroke="#000000" stroke-width="1.2" fill="none"/>
<path d="M350.08,103.80L353.48,107.20M353.48,103.80L350.08,107.20" stroke="#000000" stroke-width="1.2" fill="none"/>
<path d="M358.93,99.80L362.33,103.20M362.33,99.80L358.93,103.20" stroke="#000000" stroke-width="1.2" fill="none"/>
<path d="M367.78,96.30L371.18,99.70M371.18,96.30L367.78,99.70" stroke="#000000" stroke-width="1.2" fill="none"/>
<path d="M376.64,93.50L380.04,96.90M380.04,93.50L376.64,96.90" stroke="#000000" stroke-width="1.2" fill="none"/>
<path d="M385.49,90.80L388.89,94.20M388.89,90.80L385.49,94.20" stroke="#000000" stroke-width="1.2" fill="none"/>
<path d="M394.34,87.80L397.74,91.20M397.74,87.80L394.34,91.20" stroke="#000000" stroke-width="1.2" fill="none"/>
<path d="M403.19,84.80L406.59,88.20M406.59,84.80L403.19,88.20" stroke="#000000" stroke-width="1.2" fill="none"/>
<polyline points="325.22,115.30 334.07,110.90 342.92,106.80 351.78,102.90 360.63,99.20 369.48,96.30 378.34,94.50 387.19,92.00 396.04,89.00 404.89,86.50" fill="none" stroke="#111" stroke-width="1.0" stroke-linejoin="round"/>
<rect x="323.22" y="113.30" width="4.0" height="4.0" fill="#e0e000" stroke="#7f7f00" stroke-width="0.4"/>
<rect x="332.07" y="108.90" width="4.0" height="4.0" fill="#e0e000" stroke="#7f7f00" stroke-width="0.4"/>
<rect x="340.92" y="104.80" width="4.0" height="4.0" fill="#e0e000" stroke="#7f7f00" stroke-width="0.4"/>
<rect x="349.78" y="100.90" width="4.0" height="4.0" fill="#e0e000" stroke="#7f7f00" stroke-width="0.4"/>
<rect x="358.63" y="97.20" width="4.0" height="4.0" fill="#e0e000" stroke="#7f7f00" stroke-width="0.4"/>
<rect x="367.48" y="94.30" width="4.0" height="4.0" fill="#e0e000" stroke="#7f7f00" stroke-width="0.4"/>
<rect x="376.34" y="92.50" width="4.0" height="4.0" fill="#e0e000" stroke="#7f7f00" stroke-width="0.4"/>
<rect x="385.19" y="90.00" width="4.0" height="4.0" fill="#e0e000" stroke="#7f7f00" stroke-width="0.4"/>
<rect x="394.04" y="87.00" width="4.0" height="4.0" fill="#e0e000" stroke="#7f7f00" stroke-width="0.4"/>
<rect x="402.89" y="84.50" width="4.0" height="4.0" fill="#e0e000" stroke="#7f7f00" stroke-width="0.4"/>
<polyline points="327.40,118.50 338.50,112.60 349.40,107.60 360.60,102.40 371.70,98.50 382.90,94.50 393.60,90.60 404.90,87.10" fill="none" stroke="#111" stroke-width="1.0" stroke-linejoin="round"/>
<circle cx="327.40" cy="118.50" r="2.00" fill="#ffff99" stroke="#404040" stroke-width="0.5"/>
<circle cx="338.50" cy="112.60" r="2.00" fill="#ffff99" stroke="#404040" stroke-width="0.5"/>
<circle cx="349.40" cy="107.60" r="2.00" fill="#ffff99" stroke="#404040" stroke-width="0.5"/>
<circle cx="360.60" cy="102.40" r="2.00" fill="#ffff99" stroke="#404040" stroke-width="0.5"/>
<circle cx="371.70" cy="98.50" r="2.00" fill="#ffff99" stroke="#404040" stroke-width="0.5"/>
<circle cx="382.90" cy="94.50" r="2.00" fill="#ffff99" stroke="#404040" stroke-width="0.5"/>
<circle cx="393.60" cy="90.60" r="2.00" fill="#ffff99" stroke="#404040" stroke-width="0.5"/>
<circle cx="404.90" cy="87.10" r="2.00" fill="#ffff99" stroke="#404040" stroke-width="0.5"/>
<text x="264.80" y="139.00" font-family='"Liberation Sans", sans-serif' font-size="7.9" fill="#262626" stroke="#262626" stroke-width="0.22" text-anchor="end" textLength="18.24" lengthAdjust="spacingAndGlyphs">0.001</text>
<text x="264.80" y="112.33" font-family='"Liberation Sans", sans-serif' font-size="7.9" fill="#262626" stroke="#262626" stroke-width="0.22" text-anchor="end" textLength="14.18" lengthAdjust="spacingAndGlyphs">0.01</text>
<text x="264.80" y="85.65" font-family='"Liberation Sans", sans-serif' font-size="7.9" fill="#262626" stroke="#262626" stroke-width="0.22" text-anchor="end" textLength="10.13" lengthAdjust="spacingAndGlyphs">0.1</text>
<text x="264.80" y="58.98" font-family='"Liberation Sans", sans-serif' font-size="7.9" fill="#262626" stroke="#262626" stroke-width="0.22" text-anchor="end" textLength="4.06" lengthAdjust="spacingAndGlyphs">1</text>
<text x="264.80" y="32.30" font-family='"Liberation Sans", sans-serif' font-size="7.9" fill="#262626" stroke="#262626" stroke-width="0.22" text-anchor="end" textLength="8.11" lengthAdjust="spacingAndGlyphs">10</text>
<text x="272.10" y="149.70" font-family='"Liberation Sans", sans-serif' font-size="7.9" fill="#262626" stroke="#262626" stroke-width="0.22" text-anchor="middle" textLength="10.13" lengthAdjust="spacingAndGlyphs">0.1</text>
<text x="316.37" y="149.70" font-family='"Liberation Sans", sans-serif' font-size="7.9" fill="#262626" stroke="#262626" stroke-width="0.22" text-anchor="middle" textLength="4.06" lengthAdjust="spacingAndGlyphs">1</text>
<text x="360.63" y="149.70" font-family='"Liberation Sans", sans-serif' font-size="7.9" fill="#262626" stroke="#262626" stroke-width="0.22" text-anchor="middle" textLength="8.11" lengthAdjust="spacingAndGlyphs">10</text>
<text x="404.90" y="149.70" font-family='"Liberation Sans", sans-serif' font-size="7.9" fill="#262626" stroke="#262626" stroke-width="0.22" text-anchor="middle" textLength="12.17" lengthAdjust="spacingAndGlyphs">100</text>
<text x="230.4" y="19.8" font-family='"Liberation Sans", sans-serif' font-size="10" font-weight="bold" font-style="italic" fill="#000" stroke="#000" stroke-width="0.15" textLength="101" lengthAdjust="spacingAndGlyphs">IRS Flow sweep (analysis)</text>
<text transform="translate(243,139.6) rotate(-90)" x="0" y="0" font-family='"Liberation Sans", sans-serif' font-size="8.8" font-weight="bold" fill="#000" stroke="#000" stroke-width="0.22" textLength="112.0" lengthAdjust="spacingAndGlyphs">Interfacial Viscosity, mPa.s.m</text>
<text x="308" y="163.4" font-family='"Liberation Sans", sans-serif' font-size="8.8" font-weight="bold" fill="#000" stroke="#000" stroke-width="0.2" textLength="56.5" lengthAdjust="spacingAndGlyphs">Shear rate, 1/s</text>
<text x="319.8" y="181.3" font-family='"Liberation Serif", serif' font-size="12" fill="#000" stroke="#000" stroke-width="0.3" text-anchor="middle">(b)</text>
<rect x="348.3" y="8.4" width="66.19999999999999" height="63.4" fill="#fff" stroke="#8c8c8c" stroke-width="0.7"/>
<line x1="353.90" y1="12.50" x2="365.90" y2="12.50" stroke="#1a1a1a" stroke-width="0.9"/>
<circle cx="359.90" cy="12.50" r="1.3" fill="#ff0000" stroke="#333" stroke-width="0.35"/>
<text x="367.10" y="15.00" font-family='"Liberation Sans", sans-serif' font-size="5.4" font-weight="bold" fill="#111" textLength="26.5" lengthAdjust="spacingAndGlyphs">NaCl_300ppm</text>
<line x1="353.90" y1="20.50" x2="365.90" y2="20.50" stroke="#1a1a1a" stroke-width="0.9"/>
<circle cx="359.90" cy="20.50" r="1.3" fill="#00b0f0" stroke="#333" stroke-width="0.35"/>
<text x="367.10" y="23.00" font-family='"Liberation Sans", sans-serif' font-size="5.4" font-weight="bold" fill="#111" textLength="41.8" lengthAdjust="spacingAndGlyphs">NaCl_Iso Eth 10_7525</text>
<line x1="353.90" y1="28.50" x2="365.90" y2="28.50" stroke="#1a1a1a" stroke-width="0.9"/>
<circle cx="359.90" cy="28.50" r="1.3" fill="#92d050" stroke="#333" stroke-width="0.35"/>
<text x="367.10" y="31.00" font-family='"Liberation Sans", sans-serif' font-size="5.4" font-weight="bold" fill="#111" textLength="41.8" lengthAdjust="spacingAndGlyphs">NaCl_Iso Eth 10_6535</text>
<line x1="353.90" y1="36.50" x2="365.90" y2="36.50" stroke="#1a1a1a" stroke-width="0.9"/>
<circle cx="359.90" cy="36.50" r="1.3" fill="#c0c000" stroke="#333" stroke-width="0.35"/>
<text x="367.10" y="39.00" font-family='"Liberation Sans", sans-serif' font-size="5.4" font-weight="bold" fill="#111" textLength="41.8" lengthAdjust="spacingAndGlyphs">NaCl_Iso Eth 10_6040</text>
<line x1="353.90" y1="44.50" x2="365.90" y2="44.50" stroke="#1a1a1a" stroke-width="0.9"/>
<circle cx="359.90" cy="44.50" r="1.3" fill="#ffff00" stroke="#333" stroke-width="0.35"/>
<text x="367.10" y="47.00" font-family='"Liberation Sans", sans-serif' font-size="5.4" font-weight="bold" fill="#111" textLength="41.8" lengthAdjust="spacingAndGlyphs">NaCl_Iso Eth 10_5545</text>
<line x1="353.90" y1="51.50" x2="365.90" y2="51.50" stroke="#1a1a1a" stroke-width="0.9"/>
<circle cx="359.90" cy="51.50" r="1.3" fill="#e46c0a" stroke="#333" stroke-width="0.35"/>
<text x="367.10" y="54.00" font-family='"Liberation Sans", sans-serif' font-size="5.4" font-weight="bold" fill="#111" textLength="41.8" lengthAdjust="spacingAndGlyphs">NaCl_Iso Eth 10_5050</text>
<line x1="353.90" y1="59.50" x2="365.90" y2="59.50" stroke="#1a1a1a" stroke-width="0.9"/>
<circle cx="359.90" cy="59.50" r="1.3" fill="#000" stroke="#333" stroke-width="0.35"/>
<text x="367.10" y="62.00" font-family='"Liberation Sans", sans-serif' font-size="5.4" font-weight="bold" fill="#111" textLength="36.0" lengthAdjust="spacingAndGlyphs">Iso Eth 10_300ppm</text>
<line x1="353.90" y1="67.50" x2="365.90" y2="67.50" stroke="#1a1a1a" stroke-width="0.9"/>
<circle cx="359.90" cy="67.50" r="1.3" fill="#ffff99" stroke="#333" stroke-width="0.35"/>
<text x="367.10" y="70.00" font-family='"Liberation Sans", sans-serif' font-size="5.4" font-weight="bold" fill="#111" textLength="19.6" lengthAdjust="spacingAndGlyphs">pure water</text>
<rect x="5.5" y="185" width="203.9" height="163.60000000000002" fill="#fff" stroke="#dedede" stroke-width="0.9"/>
<line x1="72.04" y1="209.2" x2="72.04" y2="316.2" stroke="#f8f8f8" stroke-width="0.5"/>
<line x1="80.01" y1="209.2" x2="80.01" y2="316.2" stroke="#f8f8f8" stroke-width="0.5"/>
<line x1="85.67" y1="209.2" x2="85.67" y2="316.2" stroke="#f8f8f8" stroke-width="0.5"/>
<line x1="90.06" y1="209.2" x2="90.06" y2="316.2" stroke="#f8f8f8" stroke-width="0.5"/>
<line x1="93.65" y1="209.2" x2="93.65" y2="316.2" stroke="#f8f8f8" stroke-width="0.5"/>
<line x1="96.68" y1="209.2" x2="96.68" y2="316.2" stroke="#f8f8f8" stroke-width="0.5"/>
<line x1="99.31" y1="209.2" x2="99.31" y2="316.2" stroke="#f8f8f8" stroke-width="0.5"/>
<line x1="101.63" y1="209.2" x2="101.63" y2="316.2" stroke="#f8f8f8" stroke-width="0.5"/>
<line x1="117.34" y1="209.2" x2="117.34" y2="316.2" stroke="#f8f8f8" stroke-width="0.5"/>
<line x1="125.31" y1="209.2" x2="125.31" y2="316.2" stroke="#f8f8f8" stroke-width="0.5"/>
<line x1="130.97" y1="209.2" x2="130.97" y2="316.2" stroke="#f8f8f8" stroke-width="0.5"/>
<line x1="135.36" y1="209.2" x2="135.36" y2="316.2" stroke="#f8f8f8" stroke-width="0.5"/>
<line x1="138.95" y1="209.2" x2="138.95" y2="316.2" stroke="#f8f8f8" stroke-width="0.5"/>
<line x1="141.98" y1="209.2" x2="141.98" y2="316.2" stroke="#f8f8f8" stroke-width="0.5"/>
<line x1="144.61" y1="209.2" x2="144.61" y2="316.2" stroke="#f8f8f8" stroke-width="0.5"/>
<line x1="146.93" y1="209.2" x2="146.93" y2="316.2" stroke="#f8f8f8" stroke-width="0.5"/>
<line x1="162.64" y1="209.2" x2="162.64" y2="316.2" stroke="#f8f8f8" stroke-width="0.5"/>
<line x1="170.61" y1="209.2" x2="170.61" y2="316.2" stroke="#f8f8f8" stroke-width="0.5"/>
<line x1="176.27" y1="209.2" x2="176.27" y2="316.2" stroke="#f8f8f8" stroke-width="0.5"/>
<line x1="180.66" y1="209.2" x2="180.66" y2="316.2" stroke="#f8f8f8" stroke-width="0.5"/>
<line x1="184.25" y1="209.2" x2="184.25" y2="316.2" stroke="#f8f8f8" stroke-width="0.5"/>
<line x1="187.28" y1="209.2" x2="187.28" y2="316.2" stroke="#f8f8f8" stroke-width="0.5"/>
<line x1="189.91" y1="209.2" x2="189.91" y2="316.2" stroke="#f8f8f8" stroke-width="0.5"/>
<line x1="192.23" y1="209.2" x2="192.23" y2="316.2" stroke="#f8f8f8" stroke-width="0.5"/>
<line x1="58.4" y1="308.15" x2="194.3" y2="308.15" stroke="#dcdcdc" stroke-width="0.6"/>
<line x1="58.4" y1="303.44" x2="194.3" y2="303.44" stroke="#dcdcdc" stroke-width="0.6"/>
<line x1="58.4" y1="300.09" x2="194.3" y2="300.09" stroke="#dcdcdc" stroke-width="0.6"/>
<line x1="58.4" y1="297.50" x2="194.3" y2="297.50" stroke="#dcdcdc" stroke-width="0.6"/>
<line x1="58.4" y1="295.38" x2="194.3" y2="295.38" stroke="#dcdcdc" stroke-width="0.6"/>
<line x1="58.4" y1="293.59" x2="194.3" y2="293.59" stroke="#dcdcdc" stroke-width="0.6"/>
<line x1="58.4" y1="292.04" x2="194.3" y2="292.04" stroke="#dcdcdc" stroke-width="0.6"/>
<line x1="58.4" y1="290.67" x2="194.3" y2="290.67" stroke="#dcdcdc" stroke-width="0.6"/>
<line x1="58.4" y1="281.40" x2="194.3" y2="281.40" stroke="#dcdcdc" stroke-width="0.6"/>
<line x1="58.4" y1="276.69" x2="194.3" y2="276.69" stroke="#dcdcdc" stroke-width="0.6"/>
<line x1="58.4" y1="273.34" x2="194.3" y2="273.34" stroke="#dcdcdc" stroke-width="0.6"/>
<line x1="58.4" y1="270.75" x2="194.3" y2="270.75" stroke="#dcdcdc" stroke-width="0.6"/>
<line x1="58.4" y1="268.63" x2="194.3" y2="268.63" stroke="#dcdcdc" stroke-width="0.6"/>
<line x1="58.4" y1="266.84" x2="194.3" y2="266.84" stroke="#dcdcdc" stroke-width="0.6"/>
<line x1="58.4" y1="265.29" x2="194.3" y2="265.29" stroke="#dcdcdc" stroke-width="0.6"/>
<line x1="58.4" y1="263.92" x2="194.3" y2="263.92" stroke="#dcdcdc" stroke-width="0.6"/>
<line x1="58.4" y1="254.65" x2="194.3" y2="254.65" stroke="#dcdcdc" stroke-width="0.6"/>
<line x1="58.4" y1="249.94" x2="194.3" y2="249.94" stroke="#dcdcdc" stroke-width="0.6"/>
<line x1="58.4" y1="246.59" x2="194.3" y2="246.59" stroke="#dcdcdc" stroke-width="0.6"/>
<line x1="58.4" y1="244.00" x2="194.3" y2="244.00" stroke="#dcdcdc" stroke-width="0.6"/>
<line x1="58.4" y1="241.88" x2="194.3" y2="241.88" stroke="#dcdcdc" stroke-width="0.6"/>
<line x1="58.4" y1="240.09" x2="194.3" y2="240.09" stroke="#dcdcdc" stroke-width="0.6"/>
<line x1="58.4" y1="238.54" x2="194.3" y2="238.54" stroke="#dcdcdc" stroke-width="0.6"/>
<line x1="58.4" y1="237.17" x2="194.3" y2="237.17" stroke="#dcdcdc" stroke-width="0.6"/>
<line x1="58.4" y1="227.90" x2="194.3" y2="227.90" stroke="#dcdcdc" stroke-width="0.6"/>
<line x1="58.4" y1="223.19" x2="194.3" y2="223.19" stroke="#dcdcdc" stroke-width="0.6"/>
<line x1="58.4" y1="219.84" x2="194.3" y2="219.84" stroke="#dcdcdc" stroke-width="0.6"/>
<line x1="58.4" y1="217.25" x2="194.3" y2="217.25" stroke="#dcdcdc" stroke-width="0.6"/>
<line x1="58.4" y1="215.13" x2="194.3" y2="215.13" stroke="#dcdcdc" stroke-width="0.6"/>
<line x1="58.4" y1="213.34" x2="194.3" y2="213.34" stroke="#dcdcdc" stroke-width="0.6"/>
<line x1="58.4" y1="211.79" x2="194.3" y2="211.79" stroke="#dcdcdc" stroke-width="0.6"/>
<line x1="58.4" y1="210.42" x2="194.3" y2="210.42" stroke="#dcdcdc" stroke-width="0.6"/>
<line x1="58.4" y1="316.20" x2="194.3" y2="316.20" stroke="#d0d0d0" stroke-width="0.6"/>
<line x1="58.4" y1="289.45" x2="194.3" y2="289.45" stroke="#d0d0d0" stroke-width="0.6"/>
<line x1="58.4" y1="262.70" x2="194.3" y2="262.70" stroke="#d0d0d0" stroke-width="0.6"/>
<line x1="58.4" y1="235.95" x2="194.3" y2="235.95" stroke="#d0d0d0" stroke-width="0.6"/>
<line x1="58.4" y1="209.20" x2="194.3" y2="209.20" stroke="#d0d0d0" stroke-width="0.6"/>
<line x1="58.40" y1="209.2" x2="58.40" y2="316.2" stroke="#d9d9d9" stroke-width="0.6"/>
<line x1="103.70" y1="209.2" x2="103.70" y2="316.2" stroke="#d9d9d9" stroke-width="0.6"/>
<line x1="149.00" y1="209.2" x2="149.00" y2="316.2" stroke="#d9d9d9" stroke-width="0.6"/>
<line x1="194.30" y1="209.2" x2="194.30" y2="316.2" stroke="#d9d9d9" stroke-width="0.6"/>
<polyline points="58.30,221.60 67.36,226.00 76.42,229.90 85.48,233.40 94.54,237.40 103.60,242.20 112.66,247.90 121.72,252.00 130.78,256.60 139.84,259.20 148.90,262.00 157.96,263.70 167.02,264.40 176.08,264.50 185.14,264.50 194.20,264.00" fill="none" stroke="#111" stroke-width="1.0" stroke-linejoin="round"/>
<path d="M56.30,219.60L60.30,223.60M60.30,219.60L56.30,223.60" stroke="#ff0000" stroke-width="1.6" fill="none"/>
<path d="M65.36,224.00L69.36,228.00M69.36,224.00L65.36,228.00" stroke="#ff0000" stroke-width="1.6" fill="none"/>
<path d="M74.42,227.90L78.42,231.90M78.42,227.90L74.42,231.90" stroke="#ff0000" stroke-width="1.6" fill="none"/>
<path d="M83.48,231.40L87.48,235.40M87.48,231.40L83.48,235.40" stroke="#ff0000" stroke-width="1.6" fill="none"/>
<path d="M92.54,235.40L96.54,239.40M96.54,235.40L92.54,239.40" stroke="#ff0000" stroke-width="1.6" fill="none"/>
<path d="M101.60,240.20L105.60,244.20M105.60,240.20L101.60,244.20" stroke="#ff0000" stroke-width="1.6" fill="none"/>
<path d="M110.66,245.90L114.66,249.90M114.66,245.90L110.66,249.90" stroke="#ff0000" stroke-width="1.6" fill="none"/>
<path d="M119.72,250.00L123.72,254.00M123.72,250.00L119.72,254.00" stroke="#ff0000" stroke-width="1.6" fill="none"/>
<path d="M128.78,254.60L132.78,258.60M132.78,254.60L128.78,258.60" stroke="#ff0000" stroke-width="1.6" fill="none"/>
<path d="M137.84,257.20L141.84,261.20M141.84,257.20L137.84,261.20" stroke="#ff0000" stroke-width="1.6" fill="none"/>
<path d="M146.90,260.00L150.90,264.00M150.90,260.00L146.90,264.00" stroke="#ff0000" stroke-width="1.6" fill="none"/>
<path d="M155.96,261.70L159.96,265.70M159.96,261.70L155.96,265.70" stroke="#ff0000" stroke-width="1.6" fill="none"/>
<path d="M165.02,262.40L169.02,266.40M169.02,262.40L165.02,266.40" stroke="#ff0000" stroke-width="1.6" fill="none"/>
<path d="M174.08,262.50L178.08,266.50M178.08,262.50L174.08,266.50" stroke="#ff0000" stroke-width="1.6" fill="none"/>
<path d="M183.14,262.50L187.14,266.50M187.14,262.50L183.14,266.50" stroke="#ff0000" stroke-width="1.6" fill="none"/>
<path d="M192.20,262.00L196.20,266.00M196.20,262.00L192.20,266.00" stroke="#ff0000" stroke-width="1.6" fill="none"/>
<polyline points="58.30,224.00 67.36,227.80 76.42,231.60 85.48,235.40 94.54,238.90 103.60,244.40 112.66,249.10 121.72,255.00 130.78,256.20 139.84,265.10 148.90,265.60 157.96,265.10 167.02,264.40 176.08,264.90 185.14,264.90 194.20,262.80" fill="none" stroke="#111" stroke-width="1.0" stroke-linejoin="round"/>
<rect x="56.30" y="222.00" width="4.0" height="4.0" fill="#7030a0" stroke="#3f1f5f" stroke-width="0.4"/>
<rect x="65.36" y="225.80" width="4.0" height="4.0" fill="#7030a0" stroke="#3f1f5f" stroke-width="0.4"/>
<rect x="74.42" y="229.60" width="4.0" height="4.0" fill="#7030a0" stroke="#3f1f5f" stroke-width="0.4"/>
<rect x="83.48" y="233.40" width="4.0" height="4.0" fill="#7030a0" stroke="#3f1f5f" stroke-width="0.4"/>
<rect x="92.54" y="236.90" width="4.0" height="4.0" fill="#7030a0" stroke="#3f1f5f" stroke-width="0.4"/>
<rect x="101.60" y="242.40" width="4.0" height="4.0" fill="#7030a0" stroke="#3f1f5f" stroke-width="0.4"/>
<rect x="110.66" y="247.10" width="4.0" height="4.0" fill="#7030a0" stroke="#3f1f5f" stroke-width="0.4"/>
<rect x="119.72" y="253.00" width="4.0" height="4.0" fill="#7030a0" stroke="#3f1f5f" stroke-width="0.4"/>
<rect x="128.78" y="254.20" width="4.0" height="4.0" fill="#7030a0" stroke="#3f1f5f" stroke-width="0.4"/>
<rect x="137.84" y="263.10" width="4.0" height="4.0" fill="#7030a0" stroke="#3f1f5f" stroke-width="0.4"/>
<rect x="146.90" y="263.60" width="4.0" height="4.0" fill="#7030a0" stroke="#3f1f5f" stroke-width="0.4"/>
<rect x="155.96" y="263.10" width="4.0" height="4.0" fill="#7030a0" stroke="#3f1f5f" stroke-width="0.4"/>
<rect x="165.02" y="262.40" width="4.0" height="4.0" fill="#7030a0" stroke="#3f1f5f" stroke-width="0.4"/>
<rect x="174.08" y="262.90" width="4.0" height="4.0" fill="#7030a0" stroke="#3f1f5f" stroke-width="0.4"/>
<rect x="183.14" y="262.90" width="4.0" height="4.0" fill="#7030a0" stroke="#3f1f5f" stroke-width="0.4"/>
<rect x="192.20" y="260.80" width="4.0" height="4.0" fill="#7030a0" stroke="#3f1f5f" stroke-width="0.4"/>
<polyline points="58.30,228.70 67.36,240.80 76.42,272.10 112.66,295.00 121.72,292.00 130.78,289.00 139.84,285.50 148.90,281.00 157.96,277.50 167.02,274.00 176.08,271.00 185.14,268.00 194.20,265.50" fill="none" stroke="#111" stroke-width="1.0" stroke-linejoin="round"/>
<rect x="56.30" y="226.70" width="4.0" height="4.0" fill="#0070c0" stroke="#003f6f" stroke-width="0.4"/>
<rect x="65.36" y="238.80" width="4.0" height="4.0" fill="#0070c0" stroke="#003f6f" stroke-width="0.4"/>
<rect x="74.42" y="270.10" width="4.0" height="4.0" fill="#0070c0" stroke="#003f6f" stroke-width="0.4"/>
<rect x="110.66" y="293.00" width="4.0" height="4.0" fill="#0070c0" stroke="#003f6f" stroke-width="0.4"/>
<rect x="119.72" y="290.00" width="4.0" height="4.0" fill="#0070c0" stroke="#003f6f" stroke-width="0.4"/>
<rect x="128.78" y="287.00" width="4.0" height="4.0" fill="#0070c0" stroke="#003f6f" stroke-width="0.4"/>
<rect x="137.84" y="283.50" width="4.0" height="4.0" fill="#0070c0" stroke="#003f6f" stroke-width="0.4"/>
<rect x="146.90" y="279.00" width="4.0" height="4.0" fill="#0070c0" stroke="#003f6f" stroke-width="0.4"/>
<rect x="155.96" y="275.50" width="4.0" height="4.0" fill="#0070c0" stroke="#003f6f" stroke-width="0.4"/>
<rect x="165.02" y="272.00" width="4.0" height="4.0" fill="#0070c0" stroke="#003f6f" stroke-width="0.4"/>
<rect x="174.08" y="269.00" width="4.0" height="4.0" fill="#0070c0" stroke="#003f6f" stroke-width="0.4"/>
<rect x="183.14" y="266.00" width="4.0" height="4.0" fill="#0070c0" stroke="#003f6f" stroke-width="0.4"/>
<rect x="192.20" y="263.50" width="4.0" height="4.0" fill="#0070c0" stroke="#003f6f" stroke-width="0.4"/>
<polyline points="112.66,300.00 121.72,294.70 130.78,290.80 139.84,286.50 148.90,283.00 157.96,279.50 167.02,276.00 176.08,272.50 185.14,269.50 194.20,266.50" fill="none" stroke="#111" stroke-width="1.0" stroke-linejoin="round"/>
<rect x="110.66" y="298.00" width="4.0" height="4.0" fill="#e46c0a" stroke="#984807" stroke-width="0.4"/>
<rect x="119.72" y="292.70" width="4.0" height="4.0" fill="#e46c0a" stroke="#984807" stroke-width="0.4"/>
<rect x="128.78" y="288.80" width="4.0" height="4.0" fill="#e46c0a" stroke="#984807" stroke-width="0.4"/>
<rect x="137.84" y="284.50" width="4.0" height="4.0" fill="#e46c0a" stroke="#984807" stroke-width="0.4"/>
<rect x="146.90" y="281.00" width="4.0" height="4.0" fill="#e46c0a" stroke="#984807" stroke-width="0.4"/>
<rect x="155.96" y="277.50" width="4.0" height="4.0" fill="#e46c0a" stroke="#984807" stroke-width="0.4"/>
<rect x="165.02" y="274.00" width="4.0" height="4.0" fill="#e46c0a" stroke="#984807" stroke-width="0.4"/>
<rect x="174.08" y="270.50" width="4.0" height="4.0" fill="#e46c0a" stroke="#984807" stroke-width="0.4"/>
<rect x="183.14" y="267.50" width="4.0" height="4.0" fill="#e46c0a" stroke="#984807" stroke-width="0.4"/>
<rect x="192.20" y="264.50" width="4.0" height="4.0" fill="#e46c0a" stroke="#984807" stroke-width="0.4"/>
<polyline points="103.60,288.80 112.66,291.20 121.72,290.80 130.78,287.30 139.84,283.50 148.90,280.00 157.96,276.50 167.02,273.00 176.08,270.50 185.14,268.00 194.20,265.50" fill="none" stroke="#111" stroke-width="1.0" stroke-linejoin="round"/>
<path d="M101.90,287.10L105.30,290.50M105.30,287.10L101.90,290.50" stroke="#000000" stroke-width="1.2" fill="none"/>
<path d="M110.96,289.50L114.36,292.90M114.36,289.50L110.96,292.90" stroke="#000000" stroke-width="1.2" fill="none"/>
<path d="M120.02,289.10L123.42,292.50M123.42,289.10L120.02,292.50" stroke="#000000" stroke-width="1.2" fill="none"/>
<path d="M129.08,285.60L132.48,289.00M132.48,285.60L129.08,289.00" stroke="#000000" stroke-width="1.2" fill="none"/>
<path d="M138.14,281.80L141.54,285.20M141.54,281.80L138.14,285.20" stroke="#000000" stroke-width="1.2" fill="none"/>
<path d="M147.20,278.30L150.60,281.70M150.60,278.30L147.20,281.70" stroke="#000000" stroke-width="1.2" fill="none"/>
<path d="M156.26,274.80L159.66,278.20M159.66,274.80L156.26,278.20" stroke="#000000" stroke-width="1.2" fill="none"/>
<path d="M165.32,271.30L168.72,274.70M168.72,271.30L165.32,274.70" stroke="#000000" stroke-width="1.2" fill="none"/>
<path d="M174.38,268.80L177.78,272.20M177.78,268.80L174.38,272.20" stroke="#000000" stroke-width="1.2" fill="none"/>
<path d="M183.44,266.30L186.84,269.70M186.84,266.30L183.44,269.70" stroke="#000000" stroke-width="1.2" fill="none"/>
<path d="M192.50,263.80L195.90,267.20M195.90,263.80L192.50,267.20" stroke="#000000" stroke-width="1.2" fill="none"/>
<polyline points="115.00,298.20 126.50,292.00 137.60,286.80 148.20,282.40 159.50,278.00 170.60,273.80 182.80,269.80 194.10,265.60" fill="none" stroke="#111" stroke-width="1.0" stroke-linejoin="round"/>
<circle cx="115.00" cy="298.20" r="2.00" fill="#ffff99" stroke="#404040" stroke-width="0.5"/>
<circle cx="126.50" cy="292.00" r="2.00" fill="#ffff99" stroke="#404040" stroke-width="0.5"/>
<circle cx="137.60" cy="286.80" r="2.00" fill="#ffff99" stroke="#404040" stroke-width="0.5"/>
<circle cx="148.20" cy="282.40" r="2.00" fill="#ffff99" stroke="#404040" stroke-width="0.5"/>
<circle cx="159.50" cy="278.00" r="2.00" fill="#ffff99" stroke="#404040" stroke-width="0.5"/>
<circle cx="170.60" cy="273.80" r="2.00" fill="#ffff99" stroke="#404040" stroke-width="0.5"/>
<circle cx="182.80" cy="269.80" r="2.00" fill="#ffff99" stroke="#404040" stroke-width="0.5"/>
<circle cx="194.10" cy="265.60" r="2.00" fill="#ffff99" stroke="#404040" stroke-width="0.5"/>
<text x="51.10" y="318.90" font-family='"Liberation Sans", sans-serif' font-size="7.9" fill="#262626" stroke="#262626" stroke-width="0.22" text-anchor="end" textLength="18.24" lengthAdjust="spacingAndGlyphs">0.001</text>
<text x="51.10" y="292.15" font-family='"Liberation Sans", sans-serif' font-size="7.9" fill="#262626" stroke="#262626" stroke-width="0.22" text-anchor="end" textLength="14.18" lengthAdjust="spacingAndGlyphs">0.01</text>
<text x="51.10" y="265.40" font-family='"Liberation Sans", sans-serif' font-size="7.9" fill="#262626" stroke="#262626" stroke-width="0.22" text-anchor="end" textLength="10.13" lengthAdjust="spacingAndGlyphs">0.1</text>
<text x="51.10" y="238.65" font-family='"Liberation Sans", sans-serif' font-size="7.9" fill="#262626" stroke="#262626" stroke-width="0.22" text-anchor="end" textLength="4.06" lengthAdjust="spacingAndGlyphs">1</text>
<text x="51.10" y="211.90" font-family='"Liberation Sans", sans-serif' font-size="7.9" fill="#262626" stroke="#262626" stroke-width="0.22" text-anchor="end" textLength="8.11" lengthAdjust="spacingAndGlyphs">10</text>
<text x="58.40" y="329.60" font-family='"Liberation Sans", sans-serif' font-size="7.9" fill="#262626" stroke="#262626" stroke-width="0.22" text-anchor="middle" textLength="10.13" lengthAdjust="spacingAndGlyphs">0.1</text>
<text x="103.70" y="329.60" font-family='"Liberation Sans", sans-serif' font-size="7.9" fill="#262626" stroke="#262626" stroke-width="0.22" text-anchor="middle" textLength="4.06" lengthAdjust="spacingAndGlyphs">1</text>
<text x="149.00" y="329.60" font-family='"Liberation Sans", sans-serif' font-size="7.9" fill="#262626" stroke="#262626" stroke-width="0.22" text-anchor="middle" textLength="8.11" lengthAdjust="spacingAndGlyphs">10</text>
<text x="194.30" y="329.60" font-family='"Liberation Sans", sans-serif' font-size="7.9" fill="#262626" stroke="#262626" stroke-width="0.22" text-anchor="middle" textLength="12.17" lengthAdjust="spacingAndGlyphs">100</text>
<text x="15.5" y="199.2" font-family='"Liberation Sans", sans-serif' font-size="10" font-weight="bold" font-style="italic" fill="#000" stroke="#000" stroke-width="0.15" textLength="101" lengthAdjust="spacingAndGlyphs">IRS Flow sweep (analysis)</text>
<text transform="translate(27.1,319) rotate(-90)" x="0" y="0" font-family='"Liberation Sans", sans-serif' font-size="8.8" font-weight="bold" fill="#000" stroke="#000" stroke-width="0.22" textLength="112" lengthAdjust="spacingAndGlyphs">Interfacial Viscosity, mPa.s.m</text>
<text x="94.8" y="343" font-family='"Liberation Sans", sans-serif' font-size="8.8" font-weight="bold" fill="#000" stroke="#000" stroke-width="0.2" textLength="56.500000000000014" lengthAdjust="spacingAndGlyphs">Shear rate, 1/s</text>
<text x="107.9" y="361.5" font-family='"Liberation Serif", serif' font-size="12" fill="#000" stroke="#000" stroke-width="0.3" text-anchor="middle">(c)</text>
<rect x="136.5" y="187.5" width="68.0" height="66.30000000000001" fill="#fff" stroke="#8c8c8c" stroke-width="0.7"/>
<line x1="141.00" y1="191.50" x2="152.50" y2="191.50" stroke="#1a1a1a" stroke-width="0.9"/>
<circle cx="146.75" cy="191.50" r="1.3" fill="#ff0000" stroke="#333" stroke-width="0.35"/>
<text x="153.70" y="194.00" font-family='"Liberation Sans", sans-serif' font-size="5.4" font-weight="bold" fill="#111" textLength="27.9" lengthAdjust="spacingAndGlyphs">NaCl_300ppm</text>
<line x1="141.00" y1="199.50" x2="152.50" y2="199.50" stroke="#1a1a1a" stroke-width="0.9"/>
<circle cx="146.75" cy="199.50" r="1.3" fill="#7030a0" stroke="#333" stroke-width="0.35"/>
<text x="153.70" y="202.00" font-family='"Liberation Sans", sans-serif' font-size="5.4" font-weight="bold" fill="#111" textLength="46.2" lengthAdjust="spacingAndGlyphs">NaCl_Dod Eth 03_9010</text>
<line x1="141.00" y1="208.50" x2="152.50" y2="208.50" stroke="#1a1a1a" stroke-width="0.9"/>
<circle cx="146.75" cy="208.50" r="1.3" fill="#2e75b6" stroke="#333" stroke-width="0.35"/>
<text x="153.70" y="211.00" font-family='"Liberation Sans", sans-serif' font-size="5.4" font-weight="bold" fill="#111" textLength="46.2" lengthAdjust="spacingAndGlyphs">NaCl_Dod Eth 03_8020</text>
<line x1="141.00" y1="216.50" x2="152.50" y2="216.50" stroke="#1a1a1a" stroke-width="0.9"/>
<circle cx="146.75" cy="216.50" r="1.3" fill="#4bacc6" stroke="#333" stroke-width="0.35"/>
<text x="153.70" y="219.00" font-family='"Liberation Sans", sans-serif' font-size="5.4" font-weight="bold" fill="#111" textLength="46.2" lengthAdjust="spacingAndGlyphs">NaCl_Dod Eth 03_7525</text>
<line x1="141.00" y1="224.50" x2="152.50" y2="224.50" stroke="#1a1a1a" stroke-width="0.9"/>
<circle cx="146.75" cy="224.50" r="1.3" fill="#ffff00" stroke="#333" stroke-width="0.35"/>
<text x="153.70" y="227.00" font-family='"Liberation Sans", sans-serif' font-size="5.4" font-weight="bold" fill="#111" textLength="46.2" lengthAdjust="spacingAndGlyphs">NaCl_Dod Eth 03_6040</text>
<line x1="141.00" y1="232.50" x2="152.50" y2="232.50" stroke="#1a1a1a" stroke-width="0.9"/>
<circle cx="146.75" cy="232.50" r="1.3" fill="#c55a11" stroke="#333" stroke-width="0.35"/>
<text x="153.70" y="235.00" font-family='"Liberation Sans", sans-serif' font-size="5.4" font-weight="bold" fill="#111" textLength="46.2" lengthAdjust="spacingAndGlyphs">NaCl_Dod Eth 03_5050</text>
<line x1="141.00" y1="241.50" x2="152.50" y2="241.50" stroke="#1a1a1a" stroke-width="0.9"/>
<circle cx="146.75" cy="241.50" r="1.3" fill="#000" stroke="#333" stroke-width="0.35"/>
<text x="153.70" y="244.00" font-family='"Liberation Sans", sans-serif' font-size="5.4" font-weight="bold" fill="#111" textLength="40.1" lengthAdjust="spacingAndGlyphs">Dod Eth 03_300ppm</text>
<line x1="141.00" y1="249.50" x2="152.50" y2="249.50" stroke="#1a1a1a" stroke-width="0.9"/>
<circle cx="146.75" cy="249.50" r="1.3" fill="#ffff99" stroke="#333" stroke-width="0.35"/>
<text x="153.70" y="252.00" font-family='"Liberation Sans", sans-serif' font-size="5.4" font-weight="bold" fill="#111" textLength="20.6" lengthAdjust="spacingAndGlyphs">pure water</text>
<rect x="220.6" y="184.7" width="198.79999999999998" height="163.90000000000003" fill="#fff" stroke="#dedede" stroke-width="0.9"/>
<line x1="285.25" y1="209.2" x2="285.25" y2="316.2" stroke="#f8f8f8" stroke-width="0.5"/>
<line x1="293.05" y1="209.2" x2="293.05" y2="316.2" stroke="#f8f8f8" stroke-width="0.5"/>
<line x1="298.59" y1="209.2" x2="298.59" y2="316.2" stroke="#f8f8f8" stroke-width="0.5"/>
<line x1="302.89" y1="209.2" x2="302.89" y2="316.2" stroke="#f8f8f8" stroke-width="0.5"/>
<line x1="306.40" y1="209.2" x2="306.40" y2="316.2" stroke="#f8f8f8" stroke-width="0.5"/>
<line x1="309.37" y1="209.2" x2="309.37" y2="316.2" stroke="#f8f8f8" stroke-width="0.5"/>
<line x1="311.94" y1="209.2" x2="311.94" y2="316.2" stroke="#f8f8f8" stroke-width="0.5"/>
<line x1="314.20" y1="209.2" x2="314.20" y2="316.2" stroke="#f8f8f8" stroke-width="0.5"/>
<line x1="329.58" y1="209.2" x2="329.58" y2="316.2" stroke="#f8f8f8" stroke-width="0.5"/>
<line x1="337.39" y1="209.2" x2="337.39" y2="316.2" stroke="#f8f8f8" stroke-width="0.5"/>
<line x1="342.92" y1="209.2" x2="342.92" y2="316.2" stroke="#f8f8f8" stroke-width="0.5"/>
<line x1="347.22" y1="209.2" x2="347.22" y2="316.2" stroke="#f8f8f8" stroke-width="0.5"/>
<line x1="350.73" y1="209.2" x2="350.73" y2="316.2" stroke="#f8f8f8" stroke-width="0.5"/>
<line x1="353.70" y1="209.2" x2="353.70" y2="316.2" stroke="#f8f8f8" stroke-width="0.5"/>
<line x1="356.27" y1="209.2" x2="356.27" y2="316.2" stroke="#f8f8f8" stroke-width="0.5"/>
<line x1="358.54" y1="209.2" x2="358.54" y2="316.2" stroke="#f8f8f8" stroke-width="0.5"/>
<line x1="373.91" y1="209.2" x2="373.91" y2="316.2" stroke="#f8f8f8" stroke-width="0.5"/>
<line x1="381.72" y1="209.2" x2="381.72" y2="316.2" stroke="#f8f8f8" stroke-width="0.5"/>
<line x1="387.26" y1="209.2" x2="387.26" y2="316.2" stroke="#f8f8f8" stroke-width="0.5"/>
<line x1="391.55" y1="209.2" x2="391.55" y2="316.2" stroke="#f8f8f8" stroke-width="0.5"/>
<line x1="395.06" y1="209.2" x2="395.06" y2="316.2" stroke="#f8f8f8" stroke-width="0.5"/>
<line x1="398.03" y1="209.2" x2="398.03" y2="316.2" stroke="#f8f8f8" stroke-width="0.5"/>
<line x1="400.60" y1="209.2" x2="400.60" y2="316.2" stroke="#f8f8f8" stroke-width="0.5"/>
<line x1="402.87" y1="209.2" x2="402.87" y2="316.2" stroke="#f8f8f8" stroke-width="0.5"/>
<line x1="271.9" y1="308.15" x2="404.9" y2="308.15" stroke="#dcdcdc" stroke-width="0.6"/>
<line x1="271.9" y1="303.44" x2="404.9" y2="303.44" stroke="#dcdcdc" stroke-width="0.6"/>
<line x1="271.9" y1="300.09" x2="404.9" y2="300.09" stroke="#dcdcdc" stroke-width="0.6"/>
<line x1="271.9" y1="297.50" x2="404.9" y2="297.50" stroke="#dcdcdc" stroke-width="0.6"/>
<line x1="271.9" y1="295.38" x2="404.9" y2="295.38" stroke="#dcdcdc" stroke-width="0.6"/>
<line x1="271.9" y1="293.59" x2="404.9" y2="293.59" stroke="#dcdcdc" stroke-width="0.6"/>
<line x1="271.9" y1="292.04" x2="404.9" y2="292.04" stroke="#dcdcdc" stroke-width="0.6"/>
<line x1="271.9" y1="290.67" x2="404.9" y2="290.67" stroke="#dcdcdc" stroke-width="0.6"/>
<line x1="271.9" y1="281.40" x2="404.9" y2="281.40" stroke="#dcdcdc" stroke-width="0.6"/>
<line x1="271.9" y1="276.69" x2="404.9" y2="276.69" stroke="#dcdcdc" stroke-width="0.6"/>
<line x1="271.9" y1="273.34" x2="404.9" y2="273.34" stroke="#dcdcdc" stroke-width="0.6"/>
<line x1="271.9" y1="270.75" x2="404.9" y2="270.75" stroke="#dcdcdc" stroke-width="0.6"/>
<line x1="271.9" y1="268.63" x2="404.9" y2="268.63" stroke="#dcdcdc" stroke-width="0.6"/>
<line x1="271.9" y1="266.84" x2="404.9" y2="266.84" stroke="#dcdcdc" stroke-width="0.6"/>
<line x1="271.9" y1="265.29" x2="404.9" y2="265.29" stroke="#dcdcdc" stroke-width="0.6"/>
<line x1="271.9" y1="263.92" x2="404.9" y2="263.92" stroke="#dcdcdc" stroke-width="0.6"/>
<line x1="271.9" y1="254.65" x2="404.9" y2="254.65" stroke="#dcdcdc" stroke-width="0.6"/>
<line x1="271.9" y1="249.94" x2="404.9" y2="249.94" stroke="#dcdcdc" stroke-width="0.6"/>
<line x1="271.9" y1="246.59" x2="404.9" y2="246.59" stroke="#dcdcdc" stroke-width="0.6"/>
<line x1="271.9" y1="244.00" x2="404.9" y2="244.00" stroke="#dcdcdc" stroke-width="0.6"/>
<line x1="271.9" y1="241.88" x2="404.9" y2="241.88" stroke="#dcdcdc" stroke-width="0.6"/>
<line x1="271.9" y1="240.09" x2="404.9" y2="240.09" stroke="#dcdcdc" stroke-width="0.6"/>
<line x1="271.9" y1="238.54" x2="404.9" y2="238.54" stroke="#dcdcdc" stroke-width="0.6"/>
<line x1="271.9" y1="237.17" x2="404.9" y2="237.17" stroke="#dcdcdc" stroke-width="0.6"/>
<line x1="271.9" y1="227.90" x2="404.9" y2="227.90" stroke="#dcdcdc" stroke-width="0.6"/>
<line x1="271.9" y1="223.19" x2="404.9" y2="223.19" stroke="#dcdcdc" stroke-width="0.6"/>
<line x1="271.9" y1="219.84" x2="404.9" y2="219.84" stroke="#dcdcdc" stroke-width="0.6"/>
<line x1="271.9" y1="217.25" x2="404.9" y2="217.25" stroke="#dcdcdc" stroke-width="0.6"/>
<line x1="271.9" y1="215.13" x2="404.9" y2="215.13" stroke="#dcdcdc" stroke-width="0.6"/>
<line x1="271.9" y1="213.34" x2="404.9" y2="213.34" stroke="#dcdcdc" stroke-width="0.6"/>
<line x1="271.9" y1="211.79" x2="404.9" y2="211.79" stroke="#dcdcdc" stroke-width="0.6"/>
<line x1="271.9" y1="210.42" x2="404.9" y2="210.42" stroke="#dcdcdc" stroke-width="0.6"/>
<line x1="271.9" y1="316.20" x2="404.9" y2="316.20" stroke="#d0d0d0" stroke-width="0.6"/>
<line x1="271.9" y1="289.45" x2="404.9" y2="289.45" stroke="#d0d0d0" stroke-width="0.6"/>
<line x1="271.9" y1="262.70" x2="404.9" y2="262.70" stroke="#d0d0d0" stroke-width="0.6"/>
<line x1="271.9" y1="235.95" x2="404.9" y2="235.95" stroke="#d0d0d0" stroke-width="0.6"/>
<line x1="271.9" y1="209.20" x2="404.9" y2="209.20" stroke="#d0d0d0" stroke-width="0.6"/>
<line x1="271.90" y1="209.2" x2="271.90" y2="316.2" stroke="#d9d9d9" stroke-width="0.6"/>
<line x1="316.23" y1="209.2" x2="316.23" y2="316.2" stroke="#d9d9d9" stroke-width="0.6"/>
<line x1="360.57" y1="209.2" x2="360.57" y2="316.2" stroke="#d9d9d9" stroke-width="0.6"/>
<line x1="404.90" y1="209.2" x2="404.90" y2="316.2" stroke="#d9d9d9" stroke-width="0.6"/>
<polyline points="271.90,223.50 280.77,227.80 289.63,231.50 298.50,235.50 307.37,239.30 316.24,243.00 325.10,248.00 333.97,253.60 342.84,257.90 351.70,260.80 360.57,263.20 369.44,264.00 378.30,265.00 387.17,265.00 396.04,265.00 404.90,263.50" fill="none" stroke="#111" stroke-width="1.0" stroke-linejoin="round"/>
<path d="M269.90,221.50L273.90,225.50M273.90,221.50L269.90,225.50" stroke="#ff0000" stroke-width="1.6" fill="none"/>
<path d="M278.77,225.80L282.77,229.80M282.77,225.80L278.77,229.80" stroke="#ff0000" stroke-width="1.6" fill="none"/>
<path d="M287.63,229.50L291.63,233.50M291.63,229.50L287.63,233.50" stroke="#ff0000" stroke-width="1.6" fill="none"/>
<path d="M296.50,233.50L300.50,237.50M300.50,233.50L296.50,237.50" stroke="#ff0000" stroke-width="1.6" fill="none"/>
<path d="M305.37,237.30L309.37,241.30M309.37,237.30L305.37,241.30" stroke="#ff0000" stroke-width="1.6" fill="none"/>
<path d="M314.24,241.00L318.24,245.00M318.24,241.00L314.24,245.00" stroke="#ff0000" stroke-width="1.6" fill="none"/>
<path d="M323.10,246.00L327.10,250.00M327.10,246.00L323.10,250.00" stroke="#ff0000" stroke-width="1.6" fill="none"/>
<path d="M331.97,251.60L335.97,255.60M335.97,251.60L331.97,255.60" stroke="#ff0000" stroke-width="1.6" fill="none"/>
<path d="M340.84,255.90L344.84,259.90M344.84,255.90L340.84,259.90" stroke="#ff0000" stroke-width="1.6" fill="none"/>
<path d="M349.70,258.80L353.70,262.80M353.70,258.80L349.70,262.80" stroke="#ff0000" stroke-width="1.6" fill="none"/>
<path d="M358.57,261.20L362.57,265.20M362.57,261.20L358.57,265.20" stroke="#ff0000" stroke-width="1.6" fill="none"/>
<path d="M367.44,262.00L371.44,266.00M371.44,262.00L367.44,266.00" stroke="#ff0000" stroke-width="1.6" fill="none"/>
<path d="M376.30,263.00L380.30,267.00M380.30,263.00L376.30,267.00" stroke="#ff0000" stroke-width="1.6" fill="none"/>
<path d="M385.17,263.00L389.17,267.00M389.17,263.00L385.17,267.00" stroke="#ff0000" stroke-width="1.6" fill="none"/>
<path d="M394.04,263.00L398.04,267.00M398.04,263.00L394.04,267.00" stroke="#ff0000" stroke-width="1.6" fill="none"/>
<path d="M402.90,261.50L406.90,265.50M406.90,261.50L402.90,265.50" stroke="#ff0000" stroke-width="1.6" fill="none"/>
<polyline points="271.90,223.80 280.77,228.00 289.63,231.80 298.50,235.70 307.37,239.50 316.24,243.00 325.10,246.60 333.97,250.20 342.84,254.30 351.70,257.00 360.57,259.80 369.44,262.00 378.30,263.50 387.17,264.60 396.04,264.60 404.90,263.00" fill="none" stroke="#111" stroke-width="1.0" stroke-linejoin="round"/>
<rect x="269.90" y="221.80" width="4.0" height="4.0" fill="#7030a0" stroke="#3f1f5f" stroke-width="0.4"/>
<rect x="278.77" y="226.00" width="4.0" height="4.0" fill="#7030a0" stroke="#3f1f5f" stroke-width="0.4"/>
<rect x="287.63" y="229.80" width="4.0" height="4.0" fill="#7030a0" stroke="#3f1f5f" stroke-width="0.4"/>
<rect x="296.50" y="233.70" width="4.0" height="4.0" fill="#7030a0" stroke="#3f1f5f" stroke-width="0.4"/>
<rect x="305.37" y="237.50" width="4.0" height="4.0" fill="#7030a0" stroke="#3f1f5f" stroke-width="0.4"/>
<rect x="314.24" y="241.00" width="4.0" height="4.0" fill="#7030a0" stroke="#3f1f5f" stroke-width="0.4"/>
<rect x="323.10" y="244.60" width="4.0" height="4.0" fill="#7030a0" stroke="#3f1f5f" stroke-width="0.4"/>
<rect x="331.97" y="248.20" width="4.0" height="4.0" fill="#7030a0" stroke="#3f1f5f" stroke-width="0.4"/>
<rect x="340.84" y="252.30" width="4.0" height="4.0" fill="#7030a0" stroke="#3f1f5f" stroke-width="0.4"/>
<rect x="349.70" y="255.00" width="4.0" height="4.0" fill="#7030a0" stroke="#3f1f5f" stroke-width="0.4"/>
<rect x="358.57" y="257.80" width="4.0" height="4.0" fill="#7030a0" stroke="#3f1f5f" stroke-width="0.4"/>
<rect x="367.44" y="260.00" width="4.0" height="4.0" fill="#7030a0" stroke="#3f1f5f" stroke-width="0.4"/>
<rect x="376.30" y="261.50" width="4.0" height="4.0" fill="#7030a0" stroke="#3f1f5f" stroke-width="0.4"/>
<rect x="385.17" y="262.60" width="4.0" height="4.0" fill="#7030a0" stroke="#3f1f5f" stroke-width="0.4"/>
<rect x="394.04" y="262.60" width="4.0" height="4.0" fill="#7030a0" stroke="#3f1f5f" stroke-width="0.4"/>
<rect x="402.90" y="261.00" width="4.0" height="4.0" fill="#7030a0" stroke="#3f1f5f" stroke-width="0.4"/>
<polyline points="271.90,224.20 280.77,228.40 289.63,232.00 298.50,235.90 307.37,239.70 316.24,243.20 325.10,246.80 333.97,250.30 342.84,254.50 351.70,257.20 360.57,260.00 369.44,262.10 378.30,263.60 387.17,264.70 396.04,264.70 404.90,263.00" fill="none" stroke="#111" stroke-width="1.0" stroke-linejoin="round"/>
<rect x="269.90" y="222.20" width="4.0" height="4.0" fill="#2e75b6" stroke="#1f4f7f" stroke-width="0.4"/>
<rect x="278.77" y="226.40" width="4.0" height="4.0" fill="#2e75b6" stroke="#1f4f7f" stroke-width="0.4"/>
<rect x="287.63" y="230.00" width="4.0" height="4.0" fill="#2e75b6" stroke="#1f4f7f" stroke-width="0.4"/>
<rect x="296.50" y="233.90" width="4.0" height="4.0" fill="#2e75b6" stroke="#1f4f7f" stroke-width="0.4"/>
<rect x="305.37" y="237.70" width="4.0" height="4.0" fill="#2e75b6" stroke="#1f4f7f" stroke-width="0.4"/>
<rect x="314.24" y="241.20" width="4.0" height="4.0" fill="#2e75b6" stroke="#1f4f7f" stroke-width="0.4"/>
<rect x="323.10" y="244.80" width="4.0" height="4.0" fill="#2e75b6" stroke="#1f4f7f" stroke-width="0.4"/>
<rect x="331.97" y="248.30" width="4.0" height="4.0" fill="#2e75b6" stroke="#1f4f7f" stroke-width="0.4"/>
<rect x="340.84" y="252.50" width="4.0" height="4.0" fill="#2e75b6" stroke="#1f4f7f" stroke-width="0.4"/>
<rect x="349.70" y="255.20" width="4.0" height="4.0" fill="#2e75b6" stroke="#1f4f7f" stroke-width="0.4"/>
<rect x="358.57" y="258.00" width="4.0" height="4.0" fill="#2e75b6" stroke="#1f4f7f" stroke-width="0.4"/>
<rect x="367.44" y="260.10" width="4.0" height="4.0" fill="#2e75b6" stroke="#1f4f7f" stroke-width="0.4"/>
<rect x="376.30" y="261.60" width="4.0" height="4.0" fill="#2e75b6" stroke="#1f4f7f" stroke-width="0.4"/>
<rect x="385.17" y="262.70" width="4.0" height="4.0" fill="#2e75b6" stroke="#1f4f7f" stroke-width="0.4"/>
<rect x="394.04" y="262.70" width="4.0" height="4.0" fill="#2e75b6" stroke="#1f4f7f" stroke-width="0.4"/>
<rect x="402.90" y="261.00" width="4.0" height="4.0" fill="#2e75b6" stroke="#1f4f7f" stroke-width="0.4"/>
<polyline points="271.90,235.10 280.77,264.20 289.63,260.20 298.50,257.40 307.37,255.00 316.24,252.90 325.10,254.50 333.97,260.00 342.84,264.70 351.70,265.70 360.57,267.80 369.44,269.90 378.30,269.20 387.17,267.90 396.04,264.30 404.90,262.60" fill="none" stroke="#111" stroke-width="1.0" stroke-linejoin="round"/>
<rect x="269.90" y="233.10" width="4.0" height="4.0" fill="#00b0f0" stroke="#0070a0" stroke-width="0.4"/>
<rect x="278.77" y="262.20" width="4.0" height="4.0" fill="#00b0f0" stroke="#0070a0" stroke-width="0.4"/>
<rect x="287.63" y="258.20" width="4.0" height="4.0" fill="#00b0f0" stroke="#0070a0" stroke-width="0.4"/>
<rect x="296.50" y="255.40" width="4.0" height="4.0" fill="#00b0f0" stroke="#0070a0" stroke-width="0.4"/>
<rect x="305.37" y="253.00" width="4.0" height="4.0" fill="#00b0f0" stroke="#0070a0" stroke-width="0.4"/>
<rect x="314.24" y="250.90" width="4.0" height="4.0" fill="#00b0f0" stroke="#0070a0" stroke-width="0.4"/>
<rect x="323.10" y="252.50" width="4.0" height="4.0" fill="#00b0f0" stroke="#0070a0" stroke-width="0.4"/>
<rect x="331.97" y="258.00" width="4.0" height="4.0" fill="#00b0f0" stroke="#0070a0" stroke-width="0.4"/>
<rect x="340.84" y="262.70" width="4.0" height="4.0" fill="#00b0f0" stroke="#0070a0" stroke-width="0.4"/>
<rect x="349.70" y="263.70" width="4.0" height="4.0" fill="#00b0f0" stroke="#0070a0" stroke-width="0.4"/>
<rect x="358.57" y="265.80" width="4.0" height="4.0" fill="#00b0f0" stroke="#0070a0" stroke-width="0.4"/>
<rect x="367.44" y="267.90" width="4.0" height="4.0" fill="#00b0f0" stroke="#0070a0" stroke-width="0.4"/>
<rect x="376.30" y="267.20" width="4.0" height="4.0" fill="#00b0f0" stroke="#0070a0" stroke-width="0.4"/>
<rect x="385.17" y="265.90" width="4.0" height="4.0" fill="#00b0f0" stroke="#0070a0" stroke-width="0.4"/>
<rect x="394.04" y="262.30" width="4.0" height="4.0" fill="#00b0f0" stroke="#0070a0" stroke-width="0.4"/>
<rect x="402.90" y="260.60" width="4.0" height="4.0" fill="#00b0f0" stroke="#0070a0" stroke-width="0.4"/>
<polyline points="325.10,296.80 333.97,293.00 342.84,289.00 351.70,285.00 360.57,281.50 369.44,278.00 378.30,274.40 387.17,271.80 396.04,269.00 404.90,266.20" fill="none" stroke="#111" stroke-width="1.0" stroke-linejoin="round"/>
<path d="M323.40,295.10L326.80,298.50M326.80,295.10L323.40,298.50" stroke="#000000" stroke-width="1.2" fill="none"/>
<path d="M332.27,291.30L335.67,294.70M335.67,291.30L332.27,294.70" stroke="#000000" stroke-width="1.2" fill="none"/>
<path d="M341.14,287.30L344.54,290.70M344.54,287.30L341.14,290.70" stroke="#000000" stroke-width="1.2" fill="none"/>
<path d="M350.00,283.30L353.40,286.70M353.40,283.30L350.00,286.70" stroke="#000000" stroke-width="1.2" fill="none"/>
<path d="M358.87,279.80L362.27,283.20M362.27,279.80L358.87,283.20" stroke="#000000" stroke-width="1.2" fill="none"/>
<path d="M367.74,276.30L371.14,279.70M371.14,276.30L367.74,279.70" stroke="#000000" stroke-width="1.2" fill="none"/>
<path d="M376.60,272.70L380.00,276.10M380.00,272.70L376.60,276.10" stroke="#000000" stroke-width="1.2" fill="none"/>
<path d="M385.47,270.10L388.87,273.50M388.87,270.10L385.47,273.50" stroke="#000000" stroke-width="1.2" fill="none"/>
<path d="M394.34,267.30L397.74,270.70M397.74,267.30L394.34,270.70" stroke="#000000" stroke-width="1.2" fill="none"/>
<path d="M403.20,264.50L406.60,267.90M406.60,264.50L403.20,267.90" stroke="#000000" stroke-width="1.2" fill="none"/>
<polyline points="325.10,290.70 333.97,290.40 342.84,287.30 351.70,284.00 360.57,281.00 369.44,278.50 378.30,275.50 387.17,272.60 396.04,269.60 404.90,266.40" fill="none" stroke="#111" stroke-width="1.0" stroke-linejoin="round"/>
<rect x="323.10" y="288.70" width="4.0" height="4.0" fill="#c0c000" stroke="#6f6f00" stroke-width="0.4"/>
<rect x="331.97" y="288.40" width="4.0" height="4.0" fill="#c0c000" stroke="#6f6f00" stroke-width="0.4"/>
<rect x="340.84" y="285.30" width="4.0" height="4.0" fill="#c0c000" stroke="#6f6f00" stroke-width="0.4"/>
<rect x="349.70" y="282.00" width="4.0" height="4.0" fill="#c0c000" stroke="#6f6f00" stroke-width="0.4"/>
<rect x="358.57" y="279.00" width="4.0" height="4.0" fill="#c0c000" stroke="#6f6f00" stroke-width="0.4"/>
<rect x="367.44" y="276.50" width="4.0" height="4.0" fill="#c0c000" stroke="#6f6f00" stroke-width="0.4"/>
<rect x="376.30" y="273.50" width="4.0" height="4.0" fill="#c0c000" stroke="#6f6f00" stroke-width="0.4"/>
<rect x="385.17" y="270.60" width="4.0" height="4.0" fill="#c0c000" stroke="#6f6f00" stroke-width="0.4"/>
<rect x="394.04" y="267.60" width="4.0" height="4.0" fill="#c0c000" stroke="#6f6f00" stroke-width="0.4"/>
<rect x="402.90" y="264.40" width="4.0" height="4.0" fill="#c0c000" stroke="#6f6f00" stroke-width="0.4"/>
<polyline points="316.24,290.70 325.10,288.30 333.97,286.50 342.84,284.40 351.70,282.00 360.57,279.10 369.44,277.00 378.30,275.00 387.17,272.50 396.04,269.50 404.90,266.20" fill="none" stroke="#111" stroke-width="1.0" stroke-linejoin="round"/>
<rect x="314.24" y="288.70" width="4.0" height="4.0" fill="#4f6228" stroke="#2f3f18" stroke-width="0.4"/>
<rect x="323.10" y="286.30" width="4.0" height="4.0" fill="#4f6228" stroke="#2f3f18" stroke-width="0.4"/>
<rect x="331.97" y="284.50" width="4.0" height="4.0" fill="#4f6228" stroke="#2f3f18" stroke-width="0.4"/>
<rect x="340.84" y="282.40" width="4.0" height="4.0" fill="#4f6228" stroke="#2f3f18" stroke-width="0.4"/>
<rect x="349.70" y="280.00" width="4.0" height="4.0" fill="#4f6228" stroke="#2f3f18" stroke-width="0.4"/>
<rect x="358.57" y="277.10" width="4.0" height="4.0" fill="#4f6228" stroke="#2f3f18" stroke-width="0.4"/>
<rect x="367.44" y="275.00" width="4.0" height="4.0" fill="#4f6228" stroke="#2f3f18" stroke-width="0.4"/>
<rect x="376.30" y="273.00" width="4.0" height="4.0" fill="#4f6228" stroke="#2f3f18" stroke-width="0.4"/>
<rect x="385.17" y="270.50" width="4.0" height="4.0" fill="#4f6228" stroke="#2f3f18" stroke-width="0.4"/>
<rect x="394.04" y="267.50" width="4.0" height="4.0" fill="#4f6228" stroke="#2f3f18" stroke-width="0.4"/>
<rect x="402.90" y="264.20" width="4.0" height="4.0" fill="#4f6228" stroke="#2f3f18" stroke-width="0.4"/>
<polyline points="327.50,298.50 338.80,292.50 349.40,287.20 361.30,282.00 372.20,278.00 383.10,274.20 394.20,270.60 405.00,266.40" fill="none" stroke="#111" stroke-width="1.0" stroke-linejoin="round"/>
<circle cx="327.50" cy="298.50" r="2.00" fill="#ffff99" stroke="#404040" stroke-width="0.5"/>
<circle cx="338.80" cy="292.50" r="2.00" fill="#ffff99" stroke="#404040" stroke-width="0.5"/>
<circle cx="349.40" cy="287.20" r="2.00" fill="#ffff99" stroke="#404040" stroke-width="0.5"/>
<circle cx="361.30" cy="282.00" r="2.00" fill="#ffff99" stroke="#404040" stroke-width="0.5"/>
<circle cx="372.20" cy="278.00" r="2.00" fill="#ffff99" stroke="#404040" stroke-width="0.5"/>
<circle cx="383.10" cy="274.20" r="2.00" fill="#ffff99" stroke="#404040" stroke-width="0.5"/>
<circle cx="394.20" cy="270.60" r="2.00" fill="#ffff99" stroke="#404040" stroke-width="0.5"/>
<circle cx="405.00" cy="266.40" r="2.00" fill="#ffff99" stroke="#404040" stroke-width="0.5"/>
<text x="264.60" y="318.90" font-family='"Liberation Sans", sans-serif' font-size="7.9" fill="#262626" stroke="#262626" stroke-width="0.22" text-anchor="end" textLength="18.24" lengthAdjust="spacingAndGlyphs">0.001</text>
<text x="264.60" y="292.15" font-family='"Liberation Sans", sans-serif' font-size="7.9" fill="#262626" stroke="#262626" stroke-width="0.22" text-anchor="end" textLength="14.18" lengthAdjust="spacingAndGlyphs">0.01</text>
<text x="264.60" y="265.40" font-family='"Liberation Sans", sans-serif' font-size="7.9" fill="#262626" stroke="#262626" stroke-width="0.22" text-anchor="end" textLength="10.13" lengthAdjust="spacingAndGlyphs">0.1</text>
<text x="264.60" y="238.65" font-family='"Liberation Sans", sans-serif' font-size="7.9" fill="#262626" stroke="#262626" stroke-width="0.22" text-anchor="end" textLength="4.06" lengthAdjust="spacingAndGlyphs">1</text>
<text x="264.60" y="211.90" font-family='"Liberation Sans", sans-serif' font-size="7.9" fill="#262626" stroke="#262626" stroke-width="0.22" text-anchor="end" textLength="8.11" lengthAdjust="spacingAndGlyphs">10</text>
<text x="271.90" y="329.60" font-family='"Liberation Sans", sans-serif' font-size="7.9" fill="#262626" stroke="#262626" stroke-width="0.22" text-anchor="middle" textLength="10.13" lengthAdjust="spacingAndGlyphs">0.1</text>
<text x="316.23" y="329.60" font-family='"Liberation Sans", sans-serif' font-size="7.9" fill="#262626" stroke="#262626" stroke-width="0.22" text-anchor="middle" textLength="4.06" lengthAdjust="spacingAndGlyphs">1</text>
<text x="360.57" y="329.60" font-family='"Liberation Sans", sans-serif' font-size="7.9" fill="#262626" stroke="#262626" stroke-width="0.22" text-anchor="middle" textLength="8.11" lengthAdjust="spacingAndGlyphs">10</text>
<text x="404.90" y="329.60" font-family='"Liberation Sans", sans-serif' font-size="7.9" fill="#262626" stroke="#262626" stroke-width="0.22" text-anchor="middle" textLength="12.17" lengthAdjust="spacingAndGlyphs">100</text>
<text x="235.3" y="198.4" font-family='"Liberation Sans", sans-serif' font-size="10" font-weight="bold" font-style="italic" fill="#000" stroke="#000" stroke-width="0.15" textLength="101" lengthAdjust="spacingAndGlyphs">IRS Flow sweep (analysis)</text>
<text transform="translate(243,319) rotate(-90)" x="0" y="0" font-family='"Liberation Sans", sans-serif' font-size="8.8" font-weight="bold" fill="#000" stroke="#000" stroke-width="0.22" textLength="112" lengthAdjust="spacingAndGlyphs">Interfacial Viscosity, mPa.s.m</text>
<text x="308" y="343" font-family='"Liberation Sans", sans-serif' font-size="8.8" font-weight="bold" fill="#000" stroke="#000" stroke-width="0.2" textLength="56.5" lengthAdjust="spacingAndGlyphs">Shear rate, 1/s</text>
<text x="320.4" y="361.3" font-family='"Liberation Serif", serif' font-size="12" fill="#000" stroke="#000" stroke-width="0.3" text-anchor="middle">(d)</text>
<rect x="344.6" y="188.6" width="72.59999999999997" height="57.400000000000006" fill="#fff" stroke="#8c8c8c" stroke-width="0.7"/>
<line x1="353.60" y1="192.50" x2="364.70" y2="192.50" stroke="#1a1a1a" stroke-width="0.9"/>
<circle cx="359.15" cy="192.50" r="1.3" fill="#ff0000" stroke="#333" stroke-width="0.35"/>
<text x="365.90" y="195.00" font-family='"Liberation Sans", sans-serif' font-size="5.4" font-weight="bold" fill="#111" textLength="27.9" lengthAdjust="spacingAndGlyphs">NaCl_300ppm</text>
<line x1="353.60" y1="199.50" x2="364.70" y2="199.50" stroke="#1a1a1a" stroke-width="0.9"/>
<circle cx="359.15" cy="199.50" r="1.3" fill="#7030a0" stroke="#333" stroke-width="0.35"/>
<text x="365.90" y="202.00" font-family='"Liberation Sans", sans-serif' font-size="5.4" font-weight="bold" fill="#111" textLength="43.2" lengthAdjust="spacingAndGlyphs">NaCl_Iso Alk 52_9010</text>
<line x1="353.60" y1="206.50" x2="364.70" y2="206.50" stroke="#1a1a1a" stroke-width="0.9"/>
<circle cx="359.15" cy="206.50" r="1.3" fill="#2e75b6" stroke="#333" stroke-width="0.35"/>
<text x="365.90" y="209.00" font-family='"Liberation Sans", sans-serif' font-size="5.4" font-weight="bold" fill="#111" textLength="43.2" lengthAdjust="spacingAndGlyphs">NaCl_Iso Alk 52_8020</text>
<line x1="353.60" y1="213.50" x2="364.70" y2="213.50" stroke="#1a1a1a" stroke-width="0.9"/>
<circle cx="359.15" cy="213.50" r="1.3" fill="#4bacc6" stroke="#333" stroke-width="0.35"/>
<text x="365.90" y="216.00" font-family='"Liberation Sans", sans-serif' font-size="5.4" font-weight="bold" fill="#111" textLength="43.2" lengthAdjust="spacingAndGlyphs">NaCl_Iso Alk 52_7525</text>
<line x1="353.60" y1="220.50" x2="364.70" y2="220.50" stroke="#1a1a1a" stroke-width="0.9"/>
<circle cx="359.15" cy="220.50" r="1.3" fill="#375623" stroke="#333" stroke-width="0.35"/>
<text x="365.90" y="223.00" font-family='"Liberation Sans", sans-serif' font-size="5.4" font-weight="bold" fill="#111" textLength="43.2" lengthAdjust="spacingAndGlyphs">NaCl_Iso Alk 52_7030</text>
<line x1="353.60" y1="227.50" x2="364.70" y2="227.50" stroke="#1a1a1a" stroke-width="0.9"/>
<circle cx="359.15" cy="227.50" r="1.3" fill="#a5a500" stroke="#333" stroke-width="0.35"/>
<text x="365.90" y="230.00" font-family='"Liberation Sans", sans-serif' font-size="5.4" font-weight="bold" fill="#111" textLength="43.2" lengthAdjust="spacingAndGlyphs">NaCl_Iso Alk 52_6040</text>
<line x1="353.60" y1="234.50" x2="364.70" y2="234.50" stroke="#1a1a1a" stroke-width="0.9"/>
<circle cx="359.15" cy="234.50" r="1.3" fill="#000" stroke="#333" stroke-width="0.35"/>
<text x="365.90" y="237.00" font-family='"Liberation Sans", sans-serif' font-size="5.4" font-weight="bold" fill="#111" textLength="37.2" lengthAdjust="spacingAndGlyphs">Iso Alk 52_300ppm</text>
<line x1="353.60" y1="242.50" x2="364.70" y2="242.50" stroke="#1a1a1a" stroke-width="0.9"/>
<circle cx="359.15" cy="242.50" r="1.3" fill="#ffff99" stroke="#333" stroke-width="0.35"/>
<text x="365.90" y="245.00" font-family='"Liberation Sans", sans-serif' font-size="5.4" font-weight="bold" fill="#111" textLength="20.6" lengthAdjust="spacingAndGlyphs">pure water</text>
<rect x="111.2" y="364.8" width="202.8" height="168.59999999999997" fill="#fff" stroke="#dedede" stroke-width="0.9"/>
<line x1="177.03" y1="389.4" x2="177.03" y2="499.7" stroke="#f8f8f8" stroke-width="0.5"/>
<line x1="185.00" y1="389.4" x2="185.00" y2="499.7" stroke="#f8f8f8" stroke-width="0.5"/>
<line x1="190.65" y1="389.4" x2="190.65" y2="499.7" stroke="#f8f8f8" stroke-width="0.5"/>
<line x1="195.04" y1="389.4" x2="195.04" y2="499.7" stroke="#f8f8f8" stroke-width="0.5"/>
<line x1="198.62" y1="389.4" x2="198.62" y2="499.7" stroke="#f8f8f8" stroke-width="0.5"/>
<line x1="201.65" y1="389.4" x2="201.65" y2="499.7" stroke="#f8f8f8" stroke-width="0.5"/>
<line x1="204.28" y1="389.4" x2="204.28" y2="499.7" stroke="#f8f8f8" stroke-width="0.5"/>
<line x1="206.60" y1="389.4" x2="206.60" y2="499.7" stroke="#f8f8f8" stroke-width="0.5"/>
<line x1="222.29" y1="389.4" x2="222.29" y2="499.7" stroke="#f8f8f8" stroke-width="0.5"/>
<line x1="230.26" y1="389.4" x2="230.26" y2="499.7" stroke="#f8f8f8" stroke-width="0.5"/>
<line x1="235.92" y1="389.4" x2="235.92" y2="499.7" stroke="#f8f8f8" stroke-width="0.5"/>
<line x1="240.31" y1="389.4" x2="240.31" y2="499.7" stroke="#f8f8f8" stroke-width="0.5"/>
<line x1="243.89" y1="389.4" x2="243.89" y2="499.7" stroke="#f8f8f8" stroke-width="0.5"/>
<line x1="246.92" y1="389.4" x2="246.92" y2="499.7" stroke="#f8f8f8" stroke-width="0.5"/>
<line x1="249.55" y1="389.4" x2="249.55" y2="499.7" stroke="#f8f8f8" stroke-width="0.5"/>
<line x1="251.86" y1="389.4" x2="251.86" y2="499.7" stroke="#f8f8f8" stroke-width="0.5"/>
<line x1="267.56" y1="389.4" x2="267.56" y2="499.7" stroke="#f8f8f8" stroke-width="0.5"/>
<line x1="275.53" y1="389.4" x2="275.53" y2="499.7" stroke="#f8f8f8" stroke-width="0.5"/>
<line x1="281.19" y1="389.4" x2="281.19" y2="499.7" stroke="#f8f8f8" stroke-width="0.5"/>
<line x1="285.57" y1="389.4" x2="285.57" y2="499.7" stroke="#f8f8f8" stroke-width="0.5"/>
<line x1="289.16" y1="389.4" x2="289.16" y2="499.7" stroke="#f8f8f8" stroke-width="0.5"/>
<line x1="292.19" y1="389.4" x2="292.19" y2="499.7" stroke="#f8f8f8" stroke-width="0.5"/>
<line x1="294.81" y1="389.4" x2="294.81" y2="499.7" stroke="#f8f8f8" stroke-width="0.5"/>
<line x1="297.13" y1="389.4" x2="297.13" y2="499.7" stroke="#f8f8f8" stroke-width="0.5"/>
<line x1="163.4" y1="491.40" x2="299.2" y2="491.40" stroke="#dcdcdc" stroke-width="0.6"/>
<line x1="163.4" y1="486.54" x2="299.2" y2="486.54" stroke="#dcdcdc" stroke-width="0.6"/>
<line x1="163.4" y1="483.10" x2="299.2" y2="483.10" stroke="#dcdcdc" stroke-width="0.6"/>
<line x1="163.4" y1="480.43" x2="299.2" y2="480.43" stroke="#dcdcdc" stroke-width="0.6"/>
<line x1="163.4" y1="478.24" x2="299.2" y2="478.24" stroke="#dcdcdc" stroke-width="0.6"/>
<line x1="163.4" y1="476.40" x2="299.2" y2="476.40" stroke="#dcdcdc" stroke-width="0.6"/>
<line x1="163.4" y1="474.80" x2="299.2" y2="474.80" stroke="#dcdcdc" stroke-width="0.6"/>
<line x1="163.4" y1="473.39" x2="299.2" y2="473.39" stroke="#dcdcdc" stroke-width="0.6"/>
<line x1="163.4" y1="463.82" x2="299.2" y2="463.82" stroke="#dcdcdc" stroke-width="0.6"/>
<line x1="163.4" y1="458.97" x2="299.2" y2="458.97" stroke="#dcdcdc" stroke-width="0.6"/>
<line x1="163.4" y1="455.52" x2="299.2" y2="455.52" stroke="#dcdcdc" stroke-width="0.6"/>
<line x1="163.4" y1="452.85" x2="299.2" y2="452.85" stroke="#dcdcdc" stroke-width="0.6"/>
<line x1="163.4" y1="450.67" x2="299.2" y2="450.67" stroke="#dcdcdc" stroke-width="0.6"/>
<line x1="163.4" y1="448.82" x2="299.2" y2="448.82" stroke="#dcdcdc" stroke-width="0.6"/>
<line x1="163.4" y1="447.22" x2="299.2" y2="447.22" stroke="#dcdcdc" stroke-width="0.6"/>
<line x1="163.4" y1="445.81" x2="299.2" y2="445.81" stroke="#dcdcdc" stroke-width="0.6"/>
<line x1="163.4" y1="436.25" x2="299.2" y2="436.25" stroke="#dcdcdc" stroke-width="0.6"/>
<line x1="163.4" y1="431.39" x2="299.2" y2="431.39" stroke="#dcdcdc" stroke-width="0.6"/>
<line x1="163.4" y1="427.95" x2="299.2" y2="427.95" stroke="#dcdcdc" stroke-width="0.6"/>
<line x1="163.4" y1="425.28" x2="299.2" y2="425.28" stroke="#dcdcdc" stroke-width="0.6"/>
<line x1="163.4" y1="423.09" x2="299.2" y2="423.09" stroke="#dcdcdc" stroke-width="0.6"/>
<line x1="163.4" y1="421.25" x2="299.2" y2="421.25" stroke="#dcdcdc" stroke-width="0.6"/>
<line x1="163.4" y1="419.65" x2="299.2" y2="419.65" stroke="#dcdcdc" stroke-width="0.6"/>
<line x1="163.4" y1="418.24" x2="299.2" y2="418.24" stroke="#dcdcdc" stroke-width="0.6"/>
<line x1="163.4" y1="408.67" x2="299.2" y2="408.67" stroke="#dcdcdc" stroke-width="0.6"/>
<line x1="163.4" y1="403.82" x2="299.2" y2="403.82" stroke="#dcdcdc" stroke-width="0.6"/>
<line x1="163.4" y1="400.37" x2="299.2" y2="400.37" stroke="#dcdcdc" stroke-width="0.6"/>
<line x1="163.4" y1="397.70" x2="299.2" y2="397.70" stroke="#dcdcdc" stroke-width="0.6"/>
<line x1="163.4" y1="395.52" x2="299.2" y2="395.52" stroke="#dcdcdc" stroke-width="0.6"/>
<line x1="163.4" y1="393.67" x2="299.2" y2="393.67" stroke="#dcdcdc" stroke-width="0.6"/>
<line x1="163.4" y1="392.07" x2="299.2" y2="392.07" stroke="#dcdcdc" stroke-width="0.6"/>
<line x1="163.4" y1="390.66" x2="299.2" y2="390.66" stroke="#dcdcdc" stroke-width="0.6"/>
<line x1="163.4" y1="499.70" x2="299.2" y2="499.70" stroke="#d0d0d0" stroke-width="0.6"/>
<line x1="163.4" y1="472.12" x2="299.2" y2="472.12" stroke="#d0d0d0" stroke-width="0.6"/>
<line x1="163.4" y1="444.55" x2="299.2" y2="444.55" stroke="#d0d0d0" stroke-width="0.6"/>
<line x1="163.4" y1="416.97" x2="299.2" y2="416.97" stroke="#d0d0d0" stroke-width="0.6"/>
<line x1="163.4" y1="389.40" x2="299.2" y2="389.40" stroke="#d0d0d0" stroke-width="0.6"/>
<line x1="163.40" y1="389.4" x2="163.40" y2="499.7" stroke="#d9d9d9" stroke-width="0.6"/>
<line x1="208.67" y1="389.4" x2="208.67" y2="499.7" stroke="#d9d9d9" stroke-width="0.6"/>
<line x1="253.93" y1="389.4" x2="253.93" y2="499.7" stroke="#d9d9d9" stroke-width="0.6"/>
<line x1="299.20" y1="389.4" x2="299.20" y2="499.7" stroke="#d9d9d9" stroke-width="0.6"/>
<polyline points="163.40,404.20 172.47,408.40 181.53,412.40 190.60,416.20 199.67,420.10 208.74,424.70 217.80,429.60 226.87,433.30 235.94,438.50 245.00,441.40 254.07,443.60 263.14,444.00 272.20,446.30 281.27,447.00 290.34,447.00 299.40,445.50" fill="none" stroke="#111" stroke-width="1.0" stroke-linejoin="round"/>
<path d="M161.40,402.20L165.40,406.20M165.40,402.20L161.40,406.20" stroke="#ff0000" stroke-width="1.6" fill="none"/>
<path d="M170.47,406.40L174.47,410.40M174.47,406.40L170.47,410.40" stroke="#ff0000" stroke-width="1.6" fill="none"/>
<path d="M179.53,410.40L183.53,414.40M183.53,410.40L179.53,414.40" stroke="#ff0000" stroke-width="1.6" fill="none"/>
<path d="M188.60,414.20L192.60,418.20M192.60,414.20L188.60,418.20" stroke="#ff0000" stroke-width="1.6" fill="none"/>
<path d="M197.67,418.10L201.67,422.10M201.67,418.10L197.67,422.10" stroke="#ff0000" stroke-width="1.6" fill="none"/>
<path d="M206.74,422.70L210.74,426.70M210.74,422.70L206.74,426.70" stroke="#ff0000" stroke-width="1.6" fill="none"/>
<path d="M215.80,427.60L219.80,431.60M219.80,427.60L215.80,431.60" stroke="#ff0000" stroke-width="1.6" fill="none"/>
<path d="M224.87,431.30L228.87,435.30M228.87,431.30L224.87,435.30" stroke="#ff0000" stroke-width="1.6" fill="none"/>
<path d="M233.94,436.50L237.94,440.50M237.94,436.50L233.94,440.50" stroke="#ff0000" stroke-width="1.6" fill="none"/>
<path d="M243.00,439.40L247.00,443.40M247.00,439.40L243.00,443.40" stroke="#ff0000" stroke-width="1.6" fill="none"/>
<path d="M252.07,441.60L256.07,445.60M256.07,441.60L252.07,445.60" stroke="#ff0000" stroke-width="1.6" fill="none"/>
<path d="M261.14,442.00L265.14,446.00M265.14,442.00L261.14,446.00" stroke="#ff0000" stroke-width="1.6" fill="none"/>
<path d="M270.20,444.30L274.20,448.30M274.20,444.30L270.20,448.30" stroke="#ff0000" stroke-width="1.6" fill="none"/>
<path d="M279.27,445.00L283.27,449.00M283.27,445.00L279.27,449.00" stroke="#ff0000" stroke-width="1.6" fill="none"/>
<path d="M288.34,445.00L292.34,449.00M292.34,445.00L288.34,449.00" stroke="#ff0000" stroke-width="1.6" fill="none"/>
<path d="M297.40,443.50L301.40,447.50M301.40,443.50L297.40,447.50" stroke="#ff0000" stroke-width="1.6" fill="none"/>
<polyline points="163.40,408.40 172.47,419.30 181.53,423.00 190.60,425.40 199.67,428.60 208.74,431.70 217.80,434.00 226.87,436.20 235.94,441.40 245.00,443.40 254.07,442.90 263.14,445.20 272.20,447.40 281.27,447.90 290.34,447.40 299.40,445.20" fill="none" stroke="#111" stroke-width="1.0" stroke-linejoin="round"/>
<rect x="161.40" y="406.40" width="4.0" height="4.0" fill="#00b0f0" stroke="#0070a0" stroke-width="0.4"/>
<rect x="170.47" y="417.30" width="4.0" height="4.0" fill="#00b0f0" stroke="#0070a0" stroke-width="0.4"/>
<rect x="179.53" y="421.00" width="4.0" height="4.0" fill="#00b0f0" stroke="#0070a0" stroke-width="0.4"/>
<rect x="188.60" y="423.40" width="4.0" height="4.0" fill="#00b0f0" stroke="#0070a0" stroke-width="0.4"/>
<rect x="197.67" y="426.60" width="4.0" height="4.0" fill="#00b0f0" stroke="#0070a0" stroke-width="0.4"/>
<rect x="206.74" y="429.70" width="4.0" height="4.0" fill="#00b0f0" stroke="#0070a0" stroke-width="0.4"/>
<rect x="215.80" y="432.00" width="4.0" height="4.0" fill="#00b0f0" stroke="#0070a0" stroke-width="0.4"/>
<rect x="224.87" y="434.20" width="4.0" height="4.0" fill="#00b0f0" stroke="#0070a0" stroke-width="0.4"/>
<rect x="233.94" y="439.40" width="4.0" height="4.0" fill="#00b0f0" stroke="#0070a0" stroke-width="0.4"/>
<rect x="243.00" y="441.40" width="4.0" height="4.0" fill="#00b0f0" stroke="#0070a0" stroke-width="0.4"/>
<rect x="252.07" y="440.90" width="4.0" height="4.0" fill="#00b0f0" stroke="#0070a0" stroke-width="0.4"/>
<rect x="261.14" y="443.20" width="4.0" height="4.0" fill="#00b0f0" stroke="#0070a0" stroke-width="0.4"/>
<rect x="270.20" y="445.40" width="4.0" height="4.0" fill="#00b0f0" stroke="#0070a0" stroke-width="0.4"/>
<rect x="279.27" y="445.90" width="4.0" height="4.0" fill="#00b0f0" stroke="#0070a0" stroke-width="0.4"/>
<rect x="288.34" y="445.40" width="4.0" height="4.0" fill="#00b0f0" stroke="#0070a0" stroke-width="0.4"/>
<rect x="297.40" y="443.20" width="4.0" height="4.0" fill="#00b0f0" stroke="#0070a0" stroke-width="0.4"/>
<polyline points="163.40,421.60 217.80,477.90 226.87,473.20 235.94,469.40 245.00,465.10 254.07,462.50 263.14,460.50 272.20,457.50 281.27,454.50 290.34,451.60 299.40,448.50" fill="none" stroke="#111" stroke-width="1.0" stroke-linejoin="round"/>
<rect x="161.40" y="419.60" width="4.0" height="4.0" fill="#00b050" stroke="#00602f" stroke-width="0.4"/>
<rect x="215.80" y="475.90" width="4.0" height="4.0" fill="#00b050" stroke="#00602f" stroke-width="0.4"/>
<rect x="224.87" y="471.20" width="4.0" height="4.0" fill="#00b050" stroke="#00602f" stroke-width="0.4"/>
<rect x="233.94" y="467.40" width="4.0" height="4.0" fill="#00b050" stroke="#00602f" stroke-width="0.4"/>
<rect x="243.00" y="463.10" width="4.0" height="4.0" fill="#00b050" stroke="#00602f" stroke-width="0.4"/>
<rect x="252.07" y="460.50" width="4.0" height="4.0" fill="#00b050" stroke="#00602f" stroke-width="0.4"/>
<rect x="261.14" y="458.50" width="4.0" height="4.0" fill="#00b050" stroke="#00602f" stroke-width="0.4"/>
<rect x="270.20" y="455.50" width="4.0" height="4.0" fill="#00b050" stroke="#00602f" stroke-width="0.4"/>
<rect x="279.27" y="452.50" width="4.0" height="4.0" fill="#00b050" stroke="#00602f" stroke-width="0.4"/>
<rect x="288.34" y="449.60" width="4.0" height="4.0" fill="#00b050" stroke="#00602f" stroke-width="0.4"/>
<rect x="297.40" y="446.50" width="4.0" height="4.0" fill="#00b050" stroke="#00602f" stroke-width="0.4"/>
<polyline points="217.80,482.40 226.87,476.50 235.94,472.00 245.00,467.50 254.07,463.50 263.14,461.00 272.20,458.00 281.27,455.00 290.34,452.30 299.40,449.00" fill="none" stroke="#111" stroke-width="1.0" stroke-linejoin="round"/>
<rect x="215.80" y="480.40" width="4.0" height="4.0" fill="#bf9000" stroke="#6f5000" stroke-width="0.4"/>
<rect x="224.87" y="474.50" width="4.0" height="4.0" fill="#bf9000" stroke="#6f5000" stroke-width="0.4"/>
<rect x="233.94" y="470.00" width="4.0" height="4.0" fill="#bf9000" stroke="#6f5000" stroke-width="0.4"/>
<rect x="243.00" y="465.50" width="4.0" height="4.0" fill="#bf9000" stroke="#6f5000" stroke-width="0.4"/>
<rect x="252.07" y="461.50" width="4.0" height="4.0" fill="#bf9000" stroke="#6f5000" stroke-width="0.4"/>
<rect x="261.14" y="459.00" width="4.0" height="4.0" fill="#bf9000" stroke="#6f5000" stroke-width="0.4"/>
<rect x="270.20" y="456.00" width="4.0" height="4.0" fill="#bf9000" stroke="#6f5000" stroke-width="0.4"/>
<rect x="279.27" y="453.00" width="4.0" height="4.0" fill="#bf9000" stroke="#6f5000" stroke-width="0.4"/>
<rect x="288.34" y="450.30" width="4.0" height="4.0" fill="#bf9000" stroke="#6f5000" stroke-width="0.4"/>
<rect x="297.40" y="447.00" width="4.0" height="4.0" fill="#bf9000" stroke="#6f5000" stroke-width="0.4"/>
<polyline points="217.80,480.00 226.87,475.50 235.94,471.00 245.00,466.50 254.07,462.50 263.14,460.80 272.20,457.50 281.27,454.80 290.34,452.00 299.40,448.50" fill="none" stroke="#111" stroke-width="1.0" stroke-linejoin="round"/>
<path d="M216.10,478.30L219.50,481.70M219.50,478.30L216.10,481.70" stroke="#000000" stroke-width="1.2" fill="none"/>
<path d="M225.17,473.80L228.57,477.20M228.57,473.80L225.17,477.20" stroke="#000000" stroke-width="1.2" fill="none"/>
<path d="M234.24,469.30L237.64,472.70M237.64,469.30L234.24,472.70" stroke="#000000" stroke-width="1.2" fill="none"/>
<path d="M243.30,464.80L246.70,468.20M246.70,464.80L243.30,468.20" stroke="#000000" stroke-width="1.2" fill="none"/>
<path d="M252.37,460.80L255.77,464.20M255.77,460.80L252.37,464.20" stroke="#000000" stroke-width="1.2" fill="none"/>
<path d="M261.44,459.10L264.84,462.50M264.84,459.10L261.44,462.50" stroke="#000000" stroke-width="1.2" fill="none"/>
<path d="M270.50,455.80L273.90,459.20M273.90,455.80L270.50,459.20" stroke="#000000" stroke-width="1.2" fill="none"/>
<path d="M279.57,453.10L282.97,456.50M282.97,453.10L279.57,456.50" stroke="#000000" stroke-width="1.2" fill="none"/>
<path d="M288.64,450.30L292.04,453.70M292.04,450.30L288.64,453.70" stroke="#000000" stroke-width="1.2" fill="none"/>
<path d="M297.70,446.80L301.10,450.20M301.10,446.80L297.70,450.20" stroke="#000000" stroke-width="1.2" fill="none"/>
<polyline points="219.80,481.20 231.10,475.30 242.40,470.00 253.70,464.70 265.00,460.50 276.60,456.30 287.80,452.50 299.40,448.50" fill="none" stroke="#111" stroke-width="1.0" stroke-linejoin="round"/>
<circle cx="219.80" cy="481.20" r="2.00" fill="#ffff99" stroke="#404040" stroke-width="0.5"/>
<circle cx="231.10" cy="475.30" r="2.00" fill="#ffff99" stroke="#404040" stroke-width="0.5"/>
<circle cx="242.40" cy="470.00" r="2.00" fill="#ffff99" stroke="#404040" stroke-width="0.5"/>
<circle cx="253.70" cy="464.70" r="2.00" fill="#ffff99" stroke="#404040" stroke-width="0.5"/>
<circle cx="265.00" cy="460.50" r="2.00" fill="#ffff99" stroke="#404040" stroke-width="0.5"/>
<circle cx="276.60" cy="456.30" r="2.00" fill="#ffff99" stroke="#404040" stroke-width="0.5"/>
<circle cx="287.80" cy="452.50" r="2.00" fill="#ffff99" stroke="#404040" stroke-width="0.5"/>
<circle cx="299.40" cy="448.50" r="2.00" fill="#ffff99" stroke="#404040" stroke-width="0.5"/>
<text x="156.10" y="502.40" font-family='"Liberation Sans", sans-serif' font-size="7.9" fill="#262626" stroke="#262626" stroke-width="0.22" text-anchor="end" textLength="18.24" lengthAdjust="spacingAndGlyphs">0.001</text>
<text x="156.10" y="474.82" font-family='"Liberation Sans", sans-serif' font-size="7.9" fill="#262626" stroke="#262626" stroke-width="0.22" text-anchor="end" textLength="14.18" lengthAdjust="spacingAndGlyphs">0.01</text>
<text x="156.10" y="447.25" font-family='"Liberation Sans", sans-serif' font-size="7.9" fill="#262626" stroke="#262626" stroke-width="0.22" text-anchor="end" textLength="10.13" lengthAdjust="spacingAndGlyphs">0.1</text>
<text x="156.10" y="419.67" font-family='"Liberation Sans", sans-serif' font-size="7.9" fill="#262626" stroke="#262626" stroke-width="0.22" text-anchor="end" textLength="4.06" lengthAdjust="spacingAndGlyphs">1</text>
<text x="156.10" y="392.10" font-family='"Liberation Sans", sans-serif' font-size="7.9" fill="#262626" stroke="#262626" stroke-width="0.22" text-anchor="end" textLength="8.11" lengthAdjust="spacingAndGlyphs">10</text>
<text x="163.40" y="513.10" font-family='"Liberation Sans", sans-serif' font-size="7.9" fill="#262626" stroke="#262626" stroke-width="0.22" text-anchor="middle" textLength="10.13" lengthAdjust="spacingAndGlyphs">0.1</text>
<text x="208.67" y="513.10" font-family='"Liberation Sans", sans-serif' font-size="7.9" fill="#262626" stroke="#262626" stroke-width="0.22" text-anchor="middle" textLength="4.06" lengthAdjust="spacingAndGlyphs">1</text>
<text x="253.93" y="513.10" font-family='"Liberation Sans", sans-serif' font-size="7.9" fill="#262626" stroke="#262626" stroke-width="0.22" text-anchor="middle" textLength="8.11" lengthAdjust="spacingAndGlyphs">10</text>
<text x="299.20" y="513.10" font-family='"Liberation Sans", sans-serif' font-size="7.9" fill="#262626" stroke="#262626" stroke-width="0.22" text-anchor="middle" textLength="12.17" lengthAdjust="spacingAndGlyphs">100</text>
<text x="126.2" y="378.7" font-family='"Liberation Sans", sans-serif' font-size="10" font-weight="bold" font-style="italic" fill="#000" stroke="#000" stroke-width="0.15" textLength="101" lengthAdjust="spacingAndGlyphs">IRS Flow sweep (analysis)</text>
<text transform="translate(133.5,500) rotate(-90)" x="0" y="0" font-family='"Liberation Sans", sans-serif' font-size="8.8" font-weight="bold" fill="#000" stroke="#000" stroke-width="0.22" textLength="113" lengthAdjust="spacingAndGlyphs">Interfacial Viscosity, mPa.s.m</text>
<text x="201" y="527" font-family='"Liberation Sans", sans-serif' font-size="8.8" font-weight="bold" fill="#000" stroke="#000" stroke-width="0.2" textLength="56.5" lengthAdjust="spacingAndGlyphs">Shear rate, 1/s</text>
<text x="212.7" y="545.6" font-family='"Liberation Serif", serif' font-size="12" fill="#000" stroke="#000" stroke-width="0.3" text-anchor="middle">(e)</text>
<rect x="237.5" y="378.8" width="74.10000000000002" height="52.19999999999999" fill="#fff" stroke="#8c8c8c" stroke-width="0.7"/>
<line x1="245.30" y1="383.50" x2="256.50" y2="383.50" stroke="#1a1a1a" stroke-width="0.9"/>
<circle cx="250.90" cy="383.50" r="1.3" fill="#ff0000" stroke="#333" stroke-width="0.35"/>
<text x="257.70" y="386.00" font-family='"Liberation Sans", sans-serif' font-size="5.4" font-weight="bold" fill="#111" textLength="28.1" lengthAdjust="spacingAndGlyphs">NaCl_300ppm</text>
<line x1="245.30" y1="392.50" x2="256.50" y2="392.50" stroke="#1a1a1a" stroke-width="0.9"/>
<circle cx="250.90" cy="392.50" r="1.3" fill="#00b0f0" stroke="#333" stroke-width="0.35"/>
<text x="257.70" y="395.00" font-family='"Liberation Sans", sans-serif' font-size="5.4" font-weight="bold" fill="#111" textLength="45.6" lengthAdjust="spacingAndGlyphs">NaCl_Dod Alk 54_7525</text>
<line x1="245.30" y1="401.50" x2="256.50" y2="401.50" stroke="#1a1a1a" stroke-width="0.9"/>
<circle cx="250.90" cy="401.50" r="1.3" fill="#00b050" stroke="#333" stroke-width="0.35"/>
<text x="257.70" y="404.00" font-family='"Liberation Sans", sans-serif' font-size="5.4" font-weight="bold" fill="#111" textLength="45.6" lengthAdjust="spacingAndGlyphs">NaCl_Dod Alk 54_6535</text>
<line x1="245.30" y1="409.50" x2="256.50" y2="409.50" stroke="#1a1a1a" stroke-width="0.9"/>
<circle cx="250.90" cy="409.50" r="1.3" fill="#bf9000" stroke="#333" stroke-width="0.35"/>
<text x="257.70" y="412.00" font-family='"Liberation Sans", sans-serif' font-size="5.4" font-weight="bold" fill="#111" textLength="45.6" lengthAdjust="spacingAndGlyphs">NaCl_Dod Alk 54_5050</text>
<line x1="245.30" y1="418.50" x2="256.50" y2="418.50" stroke="#1a1a1a" stroke-width="0.9"/>
<circle cx="250.90" cy="418.50" r="1.3" fill="#000" stroke="#333" stroke-width="0.35"/>
<text x="257.70" y="421.00" font-family='"Liberation Sans", sans-serif' font-size="5.4" font-weight="bold" fill="#111" textLength="39.5" lengthAdjust="spacingAndGlyphs">Dod Alk 54_300ppm</text>
<line x1="245.30" y1="427.50" x2="256.50" y2="427.50" stroke="#1a1a1a" stroke-width="0.9"/>
<circle cx="250.90" cy="427.50" r="1.3" fill="#ffff99" stroke="#333" stroke-width="0.35"/>
<text x="257.70" y="430.00" font-family='"Liberation Sans", sans-serif' font-size="5.4" font-weight="bold" fill="#111" textLength="20.7" lengthAdjust="spacingAndGlyphs">pure water</text>
</svg></body></html>
